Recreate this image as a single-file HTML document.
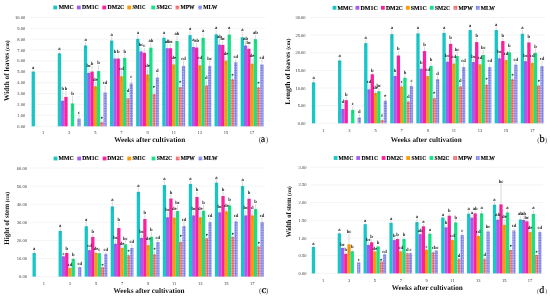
<!DOCTYPE html>
<html><head><meta charset="utf-8"><title>Figure</title>
<style>html,body{margin:0;padding:0;background:#fff}body{width:550px;height:297px;overflow:hidden}</style></head>
<body>
<svg width="550" height="297" viewBox="0 0 550 297" style="display:block;text-rendering:geometricPrecision">
<defs>
<pattern id="pr" width="1.65" height="1.65" patternUnits="userSpaceOnUse"><rect width="1.65" height="1.65" fill="#F25555"/><rect x="0.1" y="0.1" width="0.88" height="0.88" fill="#FFD9D9"/></pattern>
<pattern id="pb" width="1.65" height="1.65" patternUnits="userSpaceOnUse"><rect width="1.65" height="1.65" fill="#7378E4"/><rect x="0.1" y="0.1" width="0.88" height="0.88" fill="#DDE0FF"/></pattern>
</defs>
<rect width="550" height="297" fill="#fff"/>
<g id="chart-a">
<line x1="30.00" x2="265.17" y1="126.30" y2="126.30" stroke="#E9E9E9" stroke-width="0.5"/>
<text x="25.20" y="127.80" font-size="4.5" text-anchor="end" fill="#3a3a3a" font-family="Liberation Serif, serif">0.00</text>
<line x1="30.00" x2="265.17" y1="115.41" y2="115.41" stroke="#E9E9E9" stroke-width="0.5"/>
<text x="25.20" y="116.91" font-size="4.5" text-anchor="end" fill="#3a3a3a" font-family="Liberation Serif, serif">1.00</text>
<line x1="30.00" x2="265.17" y1="104.52" y2="104.52" stroke="#E9E9E9" stroke-width="0.5"/>
<text x="25.20" y="106.02" font-size="4.5" text-anchor="end" fill="#3a3a3a" font-family="Liberation Serif, serif">2.00</text>
<line x1="30.00" x2="265.17" y1="93.63" y2="93.63" stroke="#E9E9E9" stroke-width="0.5"/>
<text x="25.20" y="95.13" font-size="4.5" text-anchor="end" fill="#3a3a3a" font-family="Liberation Serif, serif">3.00</text>
<line x1="30.00" x2="265.17" y1="82.74" y2="82.74" stroke="#E9E9E9" stroke-width="0.5"/>
<text x="25.20" y="84.24" font-size="4.5" text-anchor="end" fill="#3a3a3a" font-family="Liberation Serif, serif">4.00</text>
<line x1="30.00" x2="265.17" y1="71.85" y2="71.85" stroke="#E9E9E9" stroke-width="0.5"/>
<text x="25.20" y="73.35" font-size="4.5" text-anchor="end" fill="#3a3a3a" font-family="Liberation Serif, serif">5.00</text>
<line x1="30.00" x2="265.17" y1="60.96" y2="60.96" stroke="#E9E9E9" stroke-width="0.5"/>
<text x="25.20" y="62.46" font-size="4.5" text-anchor="end" fill="#3a3a3a" font-family="Liberation Serif, serif">6.00</text>
<line x1="30.00" x2="265.17" y1="50.07" y2="50.07" stroke="#E9E9E9" stroke-width="0.5"/>
<text x="25.20" y="51.57" font-size="4.5" text-anchor="end" fill="#3a3a3a" font-family="Liberation Serif, serif">7.00</text>
<line x1="30.00" x2="265.17" y1="39.18" y2="39.18" stroke="#E9E9E9" stroke-width="0.5"/>
<text x="25.20" y="40.68" font-size="4.5" text-anchor="end" fill="#3a3a3a" font-family="Liberation Serif, serif">8.00</text>
<line x1="30.00" x2="265.17" y1="28.29" y2="28.29" stroke="#E9E9E9" stroke-width="0.5"/>
<text x="25.20" y="29.79" font-size="4.5" text-anchor="end" fill="#3a3a3a" font-family="Liberation Serif, serif">9.00</text>
<line x1="30.00" x2="265.17" y1="17.40" y2="17.40" stroke="#E9E9E9" stroke-width="0.5"/>
<text x="25.20" y="18.90" font-size="4.5" text-anchor="end" fill="#3a3a3a" font-family="Liberation Serif, serif">10.00</text>
<rect x="31.63" y="71.63" width="3.30" height="54.67" fill="#17C6C6"/>
<line x1="33.27" x2="33.27" y1="69.50" y2="73.76" stroke="#666" stroke-width="0.4" stroke-opacity="0.6"/>
<text x="33.27" y="68.60" font-size="4.6" font-weight="bold" text-anchor="middle" fill="#111" font-family="Liberation Serif, serif">a</text>
<text x="43.06" y="134.10" font-size="4.5" text-anchor="middle" fill="#3a3a3a" font-family="Liberation Serif, serif">1</text>
<rect x="57.76" y="53.34" width="3.30" height="72.96" fill="#17C6C6"/>
<rect x="61.03" y="100.71" width="3.30" height="25.59" fill="#A55CF4"/>
<rect x="64.30" y="96.90" width="3.30" height="29.40" fill="#FF1F9E"/>
<rect x="70.83" y="103.43" width="3.30" height="22.87" fill="#14E387"/>
<rect x="77.36" y="118.68" width="3.30" height="7.62" fill="url(#pb)"/>
<line x1="59.40" x2="59.40" y1="51.20" y2="55.47" stroke="#666" stroke-width="0.4" stroke-opacity="0.6"/>
<text x="59.40" y="50.30" font-size="4.6" font-weight="bold" text-anchor="middle" fill="#111" font-family="Liberation Serif, serif">a</text>
<line x1="62.66" x2="62.66" y1="91.00" y2="110.42" stroke="#666" stroke-width="0.4" stroke-opacity="0.6"/>
<text x="62.66" y="90.10" font-size="4.6" font-weight="bold" text-anchor="middle" fill="#111" font-family="Liberation Serif, serif">b</text>
<line x1="65.93" x2="65.93" y1="91.00" y2="102.79" stroke="#666" stroke-width="0.4" stroke-opacity="0.6"/>
<text x="65.93" y="90.10" font-size="4.6" font-weight="bold" text-anchor="middle" fill="#111" font-family="Liberation Serif, serif">b</text>
<line x1="72.46" x2="72.46" y1="96.10" y2="110.76" stroke="#666" stroke-width="0.4" stroke-opacity="0.6"/>
<text x="72.46" y="95.20" font-size="4.6" font-weight="bold" text-anchor="middle" fill="#111" font-family="Liberation Serif, serif">b</text>
<line x1="78.99" x2="78.99" y1="114.50" y2="122.85" stroke="#666" stroke-width="0.4" stroke-opacity="0.6"/>
<text x="78.99" y="113.60" font-size="4.6" font-weight="bold" text-anchor="middle" fill="#111" font-family="Liberation Serif, serif">c</text>
<text x="69.19" y="134.10" font-size="4.5" text-anchor="middle" fill="#3a3a3a" font-family="Liberation Serif, serif">3</text>
<rect x="83.89" y="45.50" width="3.30" height="80.80" fill="#17C6C6"/>
<rect x="87.16" y="72.94" width="3.30" height="53.36" fill="#A55CF4"/>
<rect x="90.43" y="71.63" width="3.30" height="54.67" fill="#FF1F9E"/>
<rect x="93.69" y="86.22" width="3.30" height="40.08" fill="#FF9A00"/>
<rect x="96.96" y="71.09" width="3.30" height="55.21" fill="#14E387"/>
<rect x="100.22" y="121.94" width="3.30" height="4.36" fill="url(#pr)"/>
<rect x="103.49" y="92.54" width="3.30" height="33.76" fill="url(#pb)"/>
<line x1="85.53" x2="85.53" y1="42.10" y2="48.89" stroke="#666" stroke-width="0.4" stroke-opacity="0.6"/>
<text x="85.53" y="41.20" font-size="4.6" font-weight="bold" text-anchor="middle" fill="#111" font-family="Liberation Serif, serif">a</text>
<line x1="88.79" x2="88.79" y1="67.40" y2="78.48" stroke="#666" stroke-width="0.4" stroke-opacity="0.6"/>
<text x="88.79" y="66.50" font-size="4.6" font-weight="bold" text-anchor="middle" fill="#111" font-family="Liberation Serif, serif">bc</text>
<line x1="92.06" x2="92.06" y1="65.90" y2="77.36" stroke="#666" stroke-width="0.4" stroke-opacity="0.6"/>
<text x="92.06" y="65.00" font-size="4.6" font-weight="bold" text-anchor="middle" fill="#111" font-family="Liberation Serif, serif">b</text>
<line x1="95.33" x2="95.33" y1="81.90" y2="90.55" stroke="#666" stroke-width="0.4" stroke-opacity="0.6"/>
<text x="95.33" y="81.00" font-size="4.6" font-weight="bold" text-anchor="middle" fill="#111" font-family="Liberation Serif, serif">de</text>
<line x1="98.59" x2="98.59" y1="65.10" y2="77.08" stroke="#666" stroke-width="0.4" stroke-opacity="0.6"/>
<text x="98.59" y="64.20" font-size="4.6" font-weight="bold" text-anchor="middle" fill="#111" font-family="Liberation Serif, serif">b</text>
<line x1="101.86" x2="101.86" y1="119.50" y2="124.39" stroke="#666" stroke-width="0.4" stroke-opacity="0.6"/>
<text x="101.86" y="118.60" font-size="4.6" font-weight="bold" text-anchor="middle" fill="#111" font-family="Liberation Serif, serif">e</text>
<line x1="105.12" x2="105.12" y1="85.30" y2="99.78" stroke="#666" stroke-width="0.4" stroke-opacity="0.6"/>
<text x="105.12" y="84.40" font-size="4.6" font-weight="bold" text-anchor="middle" fill="#111" font-family="Liberation Serif, serif">cd</text>
<text x="95.32" y="134.10" font-size="4.5" text-anchor="middle" fill="#3a3a3a" font-family="Liberation Serif, serif">5</text>
<rect x="110.02" y="40.60" width="3.30" height="85.70" fill="#17C6C6"/>
<rect x="113.29" y="58.56" width="3.30" height="67.74" fill="#A55CF4"/>
<rect x="116.56" y="58.56" width="3.30" height="67.74" fill="#FF1F9E"/>
<rect x="119.82" y="76.21" width="3.30" height="50.09" fill="#FF9A00"/>
<rect x="123.09" y="57.91" width="3.30" height="68.39" fill="#14E387"/>
<rect x="126.35" y="98.31" width="3.30" height="27.99" fill="url(#pr)"/>
<rect x="129.62" y="83.50" width="3.30" height="42.80" fill="url(#pb)"/>
<line x1="111.66" x2="111.66" y1="36.60" y2="44.59" stroke="#666" stroke-width="0.4" stroke-opacity="0.6"/>
<text x="111.66" y="35.70" font-size="4.6" font-weight="bold" text-anchor="middle" fill="#111" font-family="Liberation Serif, serif">a</text>
<line x1="114.92" x2="114.92" y1="53.90" y2="63.23" stroke="#666" stroke-width="0.4" stroke-opacity="0.6"/>
<text x="114.92" y="53.00" font-size="4.6" font-weight="bold" text-anchor="middle" fill="#111" font-family="Liberation Serif, serif">b</text>
<line x1="118.19" x2="118.19" y1="53.90" y2="63.23" stroke="#666" stroke-width="0.4" stroke-opacity="0.6"/>
<text x="118.19" y="53.00" font-size="4.6" font-weight="bold" text-anchor="middle" fill="#111" font-family="Liberation Serif, serif">b</text>
<line x1="121.46" x2="121.46" y1="70.60" y2="81.81" stroke="#666" stroke-width="0.4" stroke-opacity="0.6"/>
<text x="121.46" y="69.70" font-size="4.6" font-weight="bold" text-anchor="middle" fill="#111" font-family="Liberation Serif, serif">cd</text>
<line x1="124.72" x2="124.72" y1="53.50" y2="62.32" stroke="#666" stroke-width="0.4" stroke-opacity="0.6"/>
<text x="124.72" y="52.60" font-size="4.6" font-weight="bold" text-anchor="middle" fill="#111" font-family="Liberation Serif, serif">b</text>
<line x1="127.99" x2="127.99" y1="93.20" y2="103.43" stroke="#666" stroke-width="0.4" stroke-opacity="0.6"/>
<text x="127.99" y="92.30" font-size="4.6" font-weight="bold" text-anchor="middle" fill="#111" font-family="Liberation Serif, serif">d</text>
<line x1="131.25" x2="131.25" y1="79.20" y2="87.80" stroke="#666" stroke-width="0.4" stroke-opacity="0.6"/>
<text x="131.25" y="78.30" font-size="4.6" font-weight="bold" text-anchor="middle" fill="#111" font-family="Liberation Serif, serif">c</text>
<text x="121.45" y="134.10" font-size="4.5" text-anchor="middle" fill="#3a3a3a" font-family="Liberation Serif, serif">7</text>
<rect x="136.15" y="38.85" width="3.30" height="87.45" fill="#17C6C6"/>
<rect x="139.42" y="51.49" width="3.30" height="74.81" fill="#A55CF4"/>
<rect x="142.69" y="52.79" width="3.30" height="73.51" fill="#FF1F9E"/>
<rect x="145.95" y="74.35" width="3.30" height="51.95" fill="#FF9A00"/>
<rect x="149.22" y="47.67" width="3.30" height="78.63" fill="#14E387"/>
<rect x="152.48" y="93.96" width="3.30" height="32.34" fill="url(#pr)"/>
<rect x="155.75" y="77.62" width="3.30" height="48.68" fill="url(#pb)"/>
<line x1="137.79" x2="137.79" y1="34.80" y2="42.91" stroke="#666" stroke-width="0.4" stroke-opacity="0.6"/>
<text x="137.79" y="33.90" font-size="4.6" font-weight="bold" text-anchor="middle" fill="#111" font-family="Liberation Serif, serif">a</text>
<line x1="141.05" x2="141.05" y1="47.20" y2="55.77" stroke="#666" stroke-width="0.4" stroke-opacity="0.6"/>
<text x="141.05" y="46.30" font-size="4.6" font-weight="bold" text-anchor="middle" fill="#111" font-family="Liberation Serif, serif">bc</text>
<line x1="144.32" x2="144.32" y1="48.10" y2="57.48" stroke="#666" stroke-width="0.4" stroke-opacity="0.6"/>
<text x="144.32" y="47.20" font-size="4.6" font-weight="bold" text-anchor="middle" fill="#111" font-family="Liberation Serif, serif">c</text>
<line x1="147.59" x2="147.59" y1="67.70" y2="81.01" stroke="#666" stroke-width="0.4" stroke-opacity="0.6"/>
<text x="147.59" y="66.80" font-size="4.6" font-weight="bold" text-anchor="middle" fill="#111" font-family="Liberation Serif, serif">de</text>
<line x1="150.85" x2="150.85" y1="42.60" y2="52.75" stroke="#666" stroke-width="0.4" stroke-opacity="0.6"/>
<text x="150.85" y="41.70" font-size="4.6" font-weight="bold" text-anchor="middle" fill="#111" font-family="Liberation Serif, serif">ab</text>
<line x1="154.12" x2="154.12" y1="89.20" y2="98.71" stroke="#666" stroke-width="0.4" stroke-opacity="0.6"/>
<text x="154.12" y="88.30" font-size="4.6" font-weight="bold" text-anchor="middle" fill="#111" font-family="Liberation Serif, serif">e</text>
<line x1="157.38" x2="157.38" y1="73.20" y2="82.04" stroke="#666" stroke-width="0.4" stroke-opacity="0.6"/>
<text x="157.38" y="72.30" font-size="4.6" font-weight="bold" text-anchor="middle" fill="#111" font-family="Liberation Serif, serif">d</text>
<text x="147.58" y="134.10" font-size="4.5" text-anchor="middle" fill="#3a3a3a" font-family="Liberation Serif, serif">9</text>
<rect x="162.28" y="37.76" width="3.30" height="88.54" fill="#17C6C6"/>
<rect x="165.55" y="48.22" width="3.30" height="78.08" fill="#A55CF4"/>
<rect x="168.82" y="48.22" width="3.30" height="78.08" fill="#FF1F9E"/>
<rect x="172.08" y="64.44" width="3.30" height="61.86" fill="#FF9A00"/>
<rect x="175.35" y="41.03" width="3.30" height="85.27" fill="#14E387"/>
<rect x="178.61" y="87.10" width="3.30" height="39.20" fill="url(#pr)"/>
<rect x="181.88" y="65.86" width="3.30" height="60.44" fill="url(#pb)"/>
<line x1="163.92" x2="163.92" y1="34.80" y2="40.73" stroke="#666" stroke-width="0.4" stroke-opacity="0.6"/>
<text x="163.92" y="33.90" font-size="4.6" font-weight="bold" text-anchor="middle" fill="#111" font-family="Liberation Serif, serif">a</text>
<line x1="167.18" x2="167.18" y1="43.90" y2="52.54" stroke="#666" stroke-width="0.4" stroke-opacity="0.6"/>
<text x="167.18" y="43.00" font-size="4.6" font-weight="bold" text-anchor="middle" fill="#111" font-family="Liberation Serif, serif">ab</text>
<line x1="170.45" x2="170.45" y1="43.90" y2="52.54" stroke="#666" stroke-width="0.4" stroke-opacity="0.6"/>
<text x="170.45" y="43.00" font-size="4.6" font-weight="bold" text-anchor="middle" fill="#111" font-family="Liberation Serif, serif">bc</text>
<line x1="173.72" x2="173.72" y1="59.70" y2="69.19" stroke="#666" stroke-width="0.4" stroke-opacity="0.6"/>
<text x="173.72" y="58.80" font-size="4.6" font-weight="bold" text-anchor="middle" fill="#111" font-family="Liberation Serif, serif">de</text>
<line x1="176.98" x2="176.98" y1="36.10" y2="45.96" stroke="#666" stroke-width="0.4" stroke-opacity="0.6"/>
<text x="176.98" y="35.20" font-size="4.6" font-weight="bold" text-anchor="middle" fill="#111" font-family="Liberation Serif, serif">ab</text>
<line x1="180.25" x2="180.25" y1="83.40" y2="90.79" stroke="#666" stroke-width="0.4" stroke-opacity="0.6"/>
<text x="180.25" y="82.50" font-size="4.6" font-weight="bold" text-anchor="middle" fill="#111" font-family="Liberation Serif, serif">e</text>
<line x1="183.51" x2="183.51" y1="61.10" y2="70.62" stroke="#666" stroke-width="0.4" stroke-opacity="0.6"/>
<text x="183.51" y="60.20" font-size="4.6" font-weight="bold" text-anchor="middle" fill="#111" font-family="Liberation Serif, serif">cd</text>
<text x="173.72" y="134.10" font-size="4.5" text-anchor="middle" fill="#3a3a3a" font-family="Liberation Serif, serif">11</text>
<rect x="188.41" y="35.15" width="3.30" height="91.15" fill="#17C6C6"/>
<rect x="191.68" y="47.02" width="3.30" height="79.28" fill="#A55CF4"/>
<rect x="194.95" y="47.57" width="3.30" height="78.73" fill="#FF1F9E"/>
<rect x="198.21" y="65.32" width="3.30" height="60.98" fill="#FF9A00"/>
<rect x="201.48" y="37.87" width="3.30" height="88.43" fill="#14E387"/>
<rect x="204.74" y="85.46" width="3.30" height="40.84" fill="url(#pr)"/>
<rect x="208.01" y="65.86" width="3.30" height="60.44" fill="url(#pb)"/>
<line x1="190.05" x2="190.05" y1="31.20" y2="39.10" stroke="#666" stroke-width="0.4" stroke-opacity="0.6"/>
<text x="190.05" y="30.30" font-size="4.6" font-weight="bold" text-anchor="middle" fill="#111" font-family="Liberation Serif, serif">a</text>
<line x1="193.31" x2="193.31" y1="42.10" y2="51.94" stroke="#666" stroke-width="0.4" stroke-opacity="0.6"/>
<text x="193.31" y="41.20" font-size="4.6" font-weight="bold" text-anchor="middle" fill="#111" font-family="Liberation Serif, serif">a</text>
<line x1="196.58" x2="196.58" y1="43.00" y2="52.13" stroke="#666" stroke-width="0.4" stroke-opacity="0.6"/>
<text x="196.58" y="42.10" font-size="4.6" font-weight="bold" text-anchor="middle" fill="#111" font-family="Liberation Serif, serif">ab</text>
<line x1="199.85" x2="199.85" y1="59.90" y2="70.73" stroke="#666" stroke-width="0.4" stroke-opacity="0.6"/>
<text x="199.85" y="59.00" font-size="4.6" font-weight="bold" text-anchor="middle" fill="#111" font-family="Liberation Serif, serif">cd</text>
<line x1="203.11" x2="203.11" y1="32.60" y2="43.15" stroke="#666" stroke-width="0.4" stroke-opacity="0.6"/>
<text x="203.11" y="31.70" font-size="4.6" font-weight="bold" text-anchor="middle" fill="#111" font-family="Liberation Serif, serif">a</text>
<line x1="206.38" x2="206.38" y1="80.10" y2="90.82" stroke="#666" stroke-width="0.4" stroke-opacity="0.6"/>
<text x="206.38" y="79.20" font-size="4.6" font-weight="bold" text-anchor="middle" fill="#111" font-family="Liberation Serif, serif">d</text>
<line x1="209.64" x2="209.64" y1="60.50" y2="71.22" stroke="#666" stroke-width="0.4" stroke-opacity="0.6"/>
<text x="209.64" y="59.60" font-size="4.6" font-weight="bold" text-anchor="middle" fill="#111" font-family="Liberation Serif, serif">bc</text>
<text x="199.84" y="134.10" font-size="4.5" text-anchor="middle" fill="#3a3a3a" font-family="Liberation Serif, serif">13</text>
<rect x="214.54" y="34.28" width="3.30" height="92.02" fill="#17C6C6"/>
<rect x="217.81" y="44.62" width="3.30" height="81.68" fill="#A55CF4"/>
<rect x="221.08" y="44.95" width="3.30" height="81.35" fill="#FF1F9E"/>
<rect x="224.34" y="60.63" width="3.30" height="65.67" fill="#FF9A00"/>
<rect x="227.61" y="34.61" width="3.30" height="91.69" fill="#14E387"/>
<rect x="230.87" y="79.15" width="3.30" height="47.15" fill="url(#pr)"/>
<rect x="234.14" y="62.38" width="3.30" height="63.92" fill="url(#pb)"/>
<line x1="216.18" x2="216.18" y1="29.90" y2="38.66" stroke="#666" stroke-width="0.4" stroke-opacity="0.6"/>
<text x="216.18" y="29.00" font-size="4.6" font-weight="bold" text-anchor="middle" fill="#111" font-family="Liberation Serif, serif">a</text>
<line x1="219.44" x2="219.44" y1="38.40" y2="50.85" stroke="#666" stroke-width="0.4" stroke-opacity="0.6"/>
<text x="219.44" y="37.50" font-size="4.6" font-weight="bold" text-anchor="middle" fill="#111" font-family="Liberation Serif, serif">ab</text>
<line x1="222.71" x2="222.71" y1="41.20" y2="48.70" stroke="#666" stroke-width="0.4" stroke-opacity="0.6"/>
<text x="222.71" y="40.30" font-size="4.6" font-weight="bold" text-anchor="middle" fill="#111" font-family="Liberation Serif, serif">bc</text>
<line x1="225.98" x2="225.98" y1="56.30" y2="64.97" stroke="#666" stroke-width="0.4" stroke-opacity="0.6"/>
<text x="225.98" y="55.40" font-size="4.6" font-weight="bold" text-anchor="middle" fill="#111" font-family="Liberation Serif, serif">de</text>
<line x1="229.24" x2="229.24" y1="29.40" y2="39.81" stroke="#666" stroke-width="0.4" stroke-opacity="0.6"/>
<text x="229.24" y="28.50" font-size="4.6" font-weight="bold" text-anchor="middle" fill="#111" font-family="Liberation Serif, serif">a</text>
<line x1="232.51" x2="232.51" y1="76.40" y2="81.89" stroke="#666" stroke-width="0.4" stroke-opacity="0.6"/>
<text x="232.51" y="75.50" font-size="4.6" font-weight="bold" text-anchor="middle" fill="#111" font-family="Liberation Serif, serif">e</text>
<line x1="235.77" x2="235.77" y1="58.60" y2="66.15" stroke="#666" stroke-width="0.4" stroke-opacity="0.6"/>
<text x="235.77" y="57.70" font-size="4.6" font-weight="bold" text-anchor="middle" fill="#111" font-family="Liberation Serif, serif">cd</text>
<text x="225.97" y="134.10" font-size="4.5" text-anchor="middle" fill="#3a3a3a" font-family="Liberation Serif, serif">15</text>
<rect x="240.67" y="37.33" width="3.30" height="88.97" fill="#17C6C6"/>
<rect x="243.94" y="45.50" width="3.30" height="80.80" fill="#A55CF4"/>
<rect x="247.21" y="48.76" width="3.30" height="77.54" fill="#FF1F9E"/>
<rect x="250.47" y="63.68" width="3.30" height="62.62" fill="#FF9A00"/>
<rect x="253.74" y="39.18" width="3.30" height="87.12" fill="#14E387"/>
<rect x="257.00" y="87.31" width="3.30" height="38.99" fill="url(#pr)"/>
<rect x="260.27" y="64.55" width="3.30" height="61.75" fill="url(#pb)"/>
<line x1="242.31" x2="242.31" y1="32.10" y2="42.56" stroke="#666" stroke-width="0.4" stroke-opacity="0.6"/>
<text x="242.31" y="31.20" font-size="4.6" font-weight="bold" text-anchor="middle" fill="#111" font-family="Liberation Serif, serif">a</text>
<line x1="245.57" x2="245.57" y1="40.80" y2="50.19" stroke="#666" stroke-width="0.4" stroke-opacity="0.6"/>
<text x="245.57" y="39.90" font-size="4.6" font-weight="bold" text-anchor="middle" fill="#111" font-family="Liberation Serif, serif">ab</text>
<line x1="248.84" x2="248.84" y1="44.40" y2="53.13" stroke="#666" stroke-width="0.4" stroke-opacity="0.6"/>
<text x="248.84" y="43.50" font-size="4.6" font-weight="bold" text-anchor="middle" fill="#111" font-family="Liberation Serif, serif">bc</text>
<line x1="252.11" x2="252.11" y1="58.20" y2="69.16" stroke="#666" stroke-width="0.4" stroke-opacity="0.6"/>
<text x="252.11" y="57.30" font-size="4.6" font-weight="bold" text-anchor="middle" fill="#111" font-family="Liberation Serif, serif">de</text>
<line x1="255.37" x2="255.37" y1="34.80" y2="43.56" stroke="#666" stroke-width="0.4" stroke-opacity="0.6"/>
<text x="255.37" y="33.90" font-size="4.6" font-weight="bold" text-anchor="middle" fill="#111" font-family="Liberation Serif, serif">ab</text>
<line x1="258.64" x2="258.64" y1="85.00" y2="89.63" stroke="#666" stroke-width="0.4" stroke-opacity="0.6"/>
<text x="258.64" y="84.10" font-size="4.6" font-weight="bold" text-anchor="middle" fill="#111" font-family="Liberation Serif, serif">e</text>
<line x1="261.90" x2="261.90" y1="59.40" y2="69.71" stroke="#666" stroke-width="0.4" stroke-opacity="0.6"/>
<text x="261.90" y="58.50" font-size="4.6" font-weight="bold" text-anchor="middle" fill="#111" font-family="Liberation Serif, serif">cd</text>
<text x="252.10" y="134.10" font-size="4.5" text-anchor="middle" fill="#3a3a3a" font-family="Liberation Serif, serif">17</text>
<text x="149.65" y="142.00" font-size="7.2" font-weight="bold" text-anchor="middle" fill="#111" textLength="71" lengthAdjust="spacingAndGlyphs" font-family="Liberation Serif, serif">Weeks after cultivation</text>
<text transform="translate(9.00,70.70) rotate(-90)" font-size="7.2" font-weight="bold" text-anchor="middle" fill="#111" textLength="60.6" lengthAdjust="spacingAndGlyphs" font-family="Liberation Serif, serif">Width of leaves <tspan font-size="5.4">(cm)</tspan></text>
<text x="258.70" y="141.55" font-size="7.6" fill="#444" font-family="Liberation Serif, serif">(</text>
<text x="260.80" y="141.90" font-size="10" fill="#000" stroke="#000" stroke-width="0.18"  font-family="Liberation Serif, serif">a</text>
<text x="268.20" y="141.55" font-size="7.6" fill="#444" text-anchor="end" font-family="Liberation Serif, serif">)</text>
<rect x="53.30" y="5.60" width="3.8" height="3.8" fill="#17C6C6"/>
<text x="58.70" y="9.25" font-size="6.0" font-weight="bold" fill="#000" stroke="#000" stroke-width="0.12" textLength="14.90" lengthAdjust="spacingAndGlyphs" font-family="Liberation Serif, serif">MMC</text>
<rect x="76.90" y="5.60" width="3.8" height="3.8" fill="#A55CF4"/>
<text x="82.00" y="9.25" font-size="6.0" font-weight="bold" fill="#000" stroke="#000" stroke-width="0.12" textLength="16.70" lengthAdjust="spacingAndGlyphs" font-family="Liberation Serif, serif">DM1C</text>
<rect x="102.40" y="5.60" width="3.8" height="3.8" fill="#FF1F9E"/>
<text x="107.50" y="9.25" font-size="6.0" font-weight="bold" fill="#000" stroke="#000" stroke-width="0.12" textLength="16.70" lengthAdjust="spacingAndGlyphs" font-family="Liberation Serif, serif">DM2C</text>
<rect x="127.30" y="5.60" width="3.8" height="3.8" fill="#FF9A00"/>
<text x="132.40" y="9.25" font-size="6.0" font-weight="bold" fill="#000" stroke="#000" stroke-width="0.12" textLength="13.10" lengthAdjust="spacingAndGlyphs" font-family="Liberation Serif, serif">SM1C</text>
<rect x="151.30" y="5.60" width="3.8" height="3.8" fill="#14E387"/>
<text x="156.40" y="9.25" font-size="6.0" font-weight="bold" fill="#000" stroke="#000" stroke-width="0.12" textLength="15.40" lengthAdjust="spacingAndGlyphs" font-family="Liberation Serif, serif">SM2C</text>
<rect x="175.50" y="5.60" width="3.8" height="3.8" fill="url(#pr)"/>
<text x="180.50" y="9.25" font-size="6.0" font-weight="bold" fill="#000" stroke="#000" stroke-width="0.12" textLength="14.00" lengthAdjust="spacingAndGlyphs" font-family="Liberation Serif, serif">MPW</text>
<rect x="198.20" y="5.60" width="3.8" height="3.8" fill="url(#pb)"/>
<text x="203.30" y="9.25" font-size="6.0" font-weight="bold" fill="#000" stroke="#000" stroke-width="0.12" textLength="14.00" lengthAdjust="spacingAndGlyphs" font-family="Liberation Serif, serif">MLW</text>
</g>
<g id="chart-b">
<line x1="310.30" x2="545.20" y1="123.30" y2="123.30" stroke="#E9E9E9" stroke-width="0.5"/>
<text x="305.60" y="124.80" font-size="4.5" text-anchor="end" fill="#3a3a3a" font-family="Liberation Serif, serif">0.00</text>
<line x1="310.30" x2="545.20" y1="105.65" y2="105.65" stroke="#E9E9E9" stroke-width="0.5"/>
<text x="305.60" y="107.15" font-size="4.5" text-anchor="end" fill="#3a3a3a" font-family="Liberation Serif, serif">5.00</text>
<line x1="310.30" x2="545.20" y1="88.00" y2="88.00" stroke="#E9E9E9" stroke-width="0.5"/>
<text x="305.60" y="89.50" font-size="4.5" text-anchor="end" fill="#3a3a3a" font-family="Liberation Serif, serif">10.00</text>
<line x1="310.30" x2="545.20" y1="70.35" y2="70.35" stroke="#E9E9E9" stroke-width="0.5"/>
<text x="305.60" y="71.85" font-size="4.5" text-anchor="end" fill="#3a3a3a" font-family="Liberation Serif, serif">15.00</text>
<line x1="310.30" x2="545.20" y1="52.70" y2="52.70" stroke="#E9E9E9" stroke-width="0.5"/>
<text x="305.60" y="54.20" font-size="4.5" text-anchor="end" fill="#3a3a3a" font-family="Liberation Serif, serif">20.00</text>
<line x1="310.30" x2="545.20" y1="35.05" y2="35.05" stroke="#E9E9E9" stroke-width="0.5"/>
<text x="305.60" y="36.55" font-size="4.5" text-anchor="end" fill="#3a3a3a" font-family="Liberation Serif, serif">25.00</text>
<line x1="310.30" x2="545.20" y1="17.40" y2="17.40" stroke="#E9E9E9" stroke-width="0.5"/>
<text x="305.60" y="18.90" font-size="4.5" text-anchor="end" fill="#3a3a3a" font-family="Liberation Serif, serif">30.00</text>
<rect x="311.93" y="82.35" width="3.30" height="40.95" fill="#17C6C6"/>
<line x1="313.56" x2="313.56" y1="79.50" y2="85.20" stroke="#666" stroke-width="0.4" stroke-opacity="0.6"/>
<text x="313.56" y="78.60" font-size="4.6" font-weight="bold" text-anchor="middle" fill="#111" font-family="Liberation Serif, serif">a</text>
<text x="323.35" y="131.80" font-size="4.5" text-anchor="middle" fill="#3a3a3a" font-family="Liberation Serif, serif">1</text>
<rect x="338.03" y="60.47" width="3.30" height="62.83" fill="#17C6C6"/>
<rect x="341.29" y="108.93" width="3.30" height="14.37" fill="#A55CF4"/>
<rect x="344.56" y="100.18" width="3.30" height="23.12" fill="#FF1F9E"/>
<rect x="351.08" y="109.89" width="3.30" height="13.41" fill="#14E387"/>
<rect x="357.61" y="117.48" width="3.30" height="5.82" fill="url(#pb)"/>
<line x1="339.66" x2="339.66" y1="57.50" y2="63.43" stroke="#666" stroke-width="0.4" stroke-opacity="0.6"/>
<text x="339.66" y="56.60" font-size="4.6" font-weight="bold" text-anchor="middle" fill="#111" font-family="Liberation Serif, serif">a</text>
<line x1="342.93" x2="342.93" y1="103.90" y2="113.97" stroke="#666" stroke-width="0.4" stroke-opacity="0.6"/>
<text x="342.93" y="103.00" font-size="4.6" font-weight="bold" text-anchor="middle" fill="#111" font-family="Liberation Serif, serif">d</text>
<line x1="346.19" x2="346.19" y1="96.50" y2="103.86" stroke="#666" stroke-width="0.4" stroke-opacity="0.6"/>
<text x="346.19" y="95.60" font-size="4.6" font-weight="bold" text-anchor="middle" fill="#111" font-family="Liberation Serif, serif">b</text>
<line x1="352.71" x2="352.71" y1="106.30" y2="113.47" stroke="#666" stroke-width="0.4" stroke-opacity="0.6"/>
<text x="352.71" y="105.40" font-size="4.6" font-weight="bold" text-anchor="middle" fill="#111" font-family="Liberation Serif, serif">c</text>
<line x1="359.24" x2="359.24" y1="113.50" y2="121.45" stroke="#666" stroke-width="0.4" stroke-opacity="0.6"/>
<text x="359.24" y="112.60" font-size="4.6" font-weight="bold" text-anchor="middle" fill="#111" font-family="Liberation Serif, serif">d</text>
<text x="349.45" y="131.80" font-size="4.5" text-anchor="middle" fill="#3a3a3a" font-family="Liberation Serif, serif">3</text>
<rect x="364.13" y="43.17" width="3.30" height="80.13" fill="#17C6C6"/>
<rect x="367.39" y="89.41" width="3.30" height="33.89" fill="#A55CF4"/>
<rect x="370.66" y="74.23" width="3.30" height="49.07" fill="#FF1F9E"/>
<rect x="373.92" y="92.94" width="3.30" height="30.36" fill="#FF9A00"/>
<rect x="377.18" y="91.18" width="3.30" height="32.12" fill="#14E387"/>
<rect x="380.44" y="120.12" width="3.30" height="3.18" fill="url(#pr)"/>
<rect x="383.71" y="100.71" width="3.30" height="22.59" fill="url(#pb)"/>
<line x1="365.76" x2="365.76" y1="39.90" y2="46.44" stroke="#666" stroke-width="0.4" stroke-opacity="0.6"/>
<text x="365.76" y="39.00" font-size="4.6" font-weight="bold" text-anchor="middle" fill="#111" font-family="Liberation Serif, serif">a</text>
<line x1="369.03" x2="369.03" y1="83.70" y2="95.12" stroke="#666" stroke-width="0.4" stroke-opacity="0.6"/>
<text x="369.03" y="82.80" font-size="4.6" font-weight="bold" text-anchor="middle" fill="#111" font-family="Liberation Serif, serif">cd</text>
<line x1="372.29" x2="372.29" y1="72.60" y2="75.87" stroke="#666" stroke-width="0.4" stroke-opacity="0.6"/>
<text x="372.29" y="71.70" font-size="4.6" font-weight="bold" text-anchor="middle" fill="#111" font-family="Liberation Serif, serif">b</text>
<line x1="375.55" x2="375.55" y1="90.30" y2="95.58" stroke="#666" stroke-width="0.4" stroke-opacity="0.6"/>
<text x="375.55" y="89.40" font-size="4.6" font-weight="bold" text-anchor="middle" fill="#111" font-family="Liberation Serif, serif">de</text>
<line x1="378.81" x2="378.81" y1="88.10" y2="94.25" stroke="#666" stroke-width="0.4" stroke-opacity="0.6"/>
<text x="378.81" y="87.20" font-size="4.6" font-weight="bold" text-anchor="middle" fill="#111" font-family="Liberation Serif, serif">bc</text>
<line x1="382.08" x2="382.08" y1="117.90" y2="122.35" stroke="#666" stroke-width="0.4" stroke-opacity="0.6"/>
<text x="382.08" y="117.00" font-size="4.6" font-weight="bold" text-anchor="middle" fill="#111" font-family="Liberation Serif, serif">f</text>
<line x1="385.34" x2="385.34" y1="97.50" y2="103.92" stroke="#666" stroke-width="0.4" stroke-opacity="0.6"/>
<text x="385.34" y="96.60" font-size="4.6" font-weight="bold" text-anchor="middle" fill="#111" font-family="Liberation Serif, serif">e</text>
<text x="375.55" y="131.80" font-size="4.5" text-anchor="middle" fill="#3a3a3a" font-family="Liberation Serif, serif">5</text>
<rect x="390.23" y="34.13" width="3.30" height="89.17" fill="#17C6C6"/>
<rect x="393.49" y="76.00" width="3.30" height="47.30" fill="#A55CF4"/>
<rect x="396.76" y="55.52" width="3.30" height="67.78" fill="#FF1F9E"/>
<rect x="400.02" y="86.59" width="3.30" height="36.71" fill="#FF9A00"/>
<rect x="403.28" y="77.76" width="3.30" height="45.54" fill="#14E387"/>
<rect x="406.54" y="101.41" width="3.30" height="21.89" fill="url(#pr)"/>
<rect x="409.81" y="86.06" width="3.30" height="37.24" fill="url(#pb)"/>
<line x1="391.86" x2="391.86" y1="29.90" y2="38.36" stroke="#666" stroke-width="0.4" stroke-opacity="0.6"/>
<text x="391.86" y="29.00" font-size="4.6" font-weight="bold" text-anchor="middle" fill="#111" font-family="Liberation Serif, serif">a</text>
<line x1="395.13" x2="395.13" y1="72.90" y2="79.10" stroke="#666" stroke-width="0.4" stroke-opacity="0.6"/>
<text x="395.13" y="72.00" font-size="4.6" font-weight="bold" text-anchor="middle" fill="#111" font-family="Liberation Serif, serif">b</text>
<line x1="398.39" x2="398.39" y1="51.20" y2="59.85" stroke="#666" stroke-width="0.4" stroke-opacity="0.6"/>
<text x="398.39" y="50.30" font-size="4.6" font-weight="bold" text-anchor="middle" fill="#111" font-family="Liberation Serif, serif">b</text>
<line x1="401.65" x2="401.65" y1="83.40" y2="89.78" stroke="#666" stroke-width="0.4" stroke-opacity="0.6"/>
<text x="401.65" y="82.50" font-size="4.6" font-weight="bold" text-anchor="middle" fill="#111" font-family="Liberation Serif, serif">c</text>
<line x1="404.91" x2="404.91" y1="74.80" y2="80.73" stroke="#666" stroke-width="0.4" stroke-opacity="0.6"/>
<text x="404.91" y="73.90" font-size="4.6" font-weight="bold" text-anchor="middle" fill="#111" font-family="Liberation Serif, serif">b</text>
<line x1="408.18" x2="408.18" y1="98.40" y2="104.43" stroke="#666" stroke-width="0.4" stroke-opacity="0.6"/>
<text x="408.18" y="97.50" font-size="4.6" font-weight="bold" text-anchor="middle" fill="#111" font-family="Liberation Serif, serif">d</text>
<line x1="411.44" x2="411.44" y1="82.70" y2="89.42" stroke="#666" stroke-width="0.4" stroke-opacity="0.6"/>
<text x="411.44" y="81.80" font-size="4.6" font-weight="bold" text-anchor="middle" fill="#111" font-family="Liberation Serif, serif">c</text>
<text x="401.65" y="131.80" font-size="4.5" text-anchor="middle" fill="#3a3a3a" font-family="Liberation Serif, serif">7</text>
<rect x="416.33" y="33.43" width="3.30" height="89.87" fill="#17C6C6"/>
<rect x="419.59" y="68.73" width="3.30" height="54.57" fill="#A55CF4"/>
<rect x="422.86" y="51.08" width="3.30" height="72.22" fill="#FF1F9E"/>
<rect x="426.12" y="76.00" width="3.30" height="47.30" fill="#FF9A00"/>
<rect x="429.38" y="65.94" width="3.30" height="57.36" fill="#14E387"/>
<rect x="432.64" y="98.24" width="3.30" height="25.06" fill="url(#pr)"/>
<rect x="435.91" y="79.17" width="3.30" height="44.12" fill="url(#pb)"/>
<line x1="417.96" x2="417.96" y1="29.90" y2="36.95" stroke="#666" stroke-width="0.4" stroke-opacity="0.6"/>
<text x="417.96" y="29.00" font-size="4.6" font-weight="bold" text-anchor="middle" fill="#111" font-family="Liberation Serif, serif">a</text>
<line x1="421.23" x2="421.23" y1="65.10" y2="72.35" stroke="#666" stroke-width="0.4" stroke-opacity="0.6"/>
<text x="421.23" y="64.20" font-size="4.6" font-weight="bold" text-anchor="middle" fill="#111" font-family="Liberation Serif, serif">b</text>
<line x1="424.49" x2="424.49" y1="47.20" y2="54.95" stroke="#666" stroke-width="0.4" stroke-opacity="0.6"/>
<text x="424.49" y="46.30" font-size="4.6" font-weight="bold" text-anchor="middle" fill="#111" font-family="Liberation Serif, serif">b</text>
<line x1="427.75" x2="427.75" y1="71.90" y2="80.10" stroke="#666" stroke-width="0.4" stroke-opacity="0.6"/>
<text x="427.75" y="71.00" font-size="4.6" font-weight="bold" text-anchor="middle" fill="#111" font-family="Liberation Serif, serif">cd</text>
<line x1="431.01" x2="431.01" y1="62.00" y2="69.88" stroke="#666" stroke-width="0.4" stroke-opacity="0.6"/>
<text x="431.01" y="61.10" font-size="4.6" font-weight="bold" text-anchor="middle" fill="#111" font-family="Liberation Serif, serif">b</text>
<line x1="434.28" x2="434.28" y1="95.20" y2="101.27" stroke="#666" stroke-width="0.4" stroke-opacity="0.6"/>
<text x="434.28" y="94.30" font-size="4.6" font-weight="bold" text-anchor="middle" fill="#111" font-family="Liberation Serif, serif">e</text>
<line x1="437.54" x2="437.54" y1="75.50" y2="82.85" stroke="#666" stroke-width="0.4" stroke-opacity="0.6"/>
<text x="437.54" y="74.60" font-size="4.6" font-weight="bold" text-anchor="middle" fill="#111" font-family="Liberation Serif, serif">d</text>
<text x="427.75" y="131.80" font-size="4.5" text-anchor="middle" fill="#3a3a3a" font-family="Liberation Serif, serif">9</text>
<rect x="442.43" y="32.93" width="3.30" height="90.37" fill="#17C6C6"/>
<rect x="445.69" y="61.70" width="3.30" height="61.60" fill="#A55CF4"/>
<rect x="448.96" y="43.87" width="3.30" height="79.43" fill="#FF1F9E"/>
<rect x="452.22" y="63.64" width="3.30" height="59.66" fill="#FF9A00"/>
<rect x="455.48" y="56.05" width="3.30" height="67.25" fill="#14E387"/>
<rect x="458.74" y="86.38" width="3.30" height="36.92" fill="url(#pr)"/>
<rect x="462.01" y="67.17" width="3.30" height="56.13" fill="url(#pb)"/>
<line x1="444.06" x2="444.06" y1="29.90" y2="35.96" stroke="#666" stroke-width="0.4" stroke-opacity="0.6"/>
<text x="444.06" y="29.00" font-size="4.6" font-weight="bold" text-anchor="middle" fill="#111" font-family="Liberation Serif, serif">a</text>
<line x1="447.33" x2="447.33" y1="57.50" y2="65.90" stroke="#666" stroke-width="0.4" stroke-opacity="0.6"/>
<text x="447.33" y="56.60" font-size="4.6" font-weight="bold" text-anchor="middle" fill="#111" font-family="Liberation Serif, serif">bc</text>
<line x1="450.59" x2="450.59" y1="39.60" y2="48.15" stroke="#666" stroke-width="0.4" stroke-opacity="0.6"/>
<text x="450.59" y="38.70" font-size="4.6" font-weight="bold" text-anchor="middle" fill="#111" font-family="Liberation Serif, serif">b</text>
<line x1="453.85" x2="453.85" y1="58.90" y2="68.39" stroke="#666" stroke-width="0.4" stroke-opacity="0.6"/>
<text x="453.85" y="58.00" font-size="4.6" font-weight="bold" text-anchor="middle" fill="#111" font-family="Liberation Serif, serif">cd</text>
<line x1="457.11" x2="457.11" y1="51.40" y2="60.71" stroke="#666" stroke-width="0.4" stroke-opacity="0.6"/>
<text x="457.11" y="50.50" font-size="4.6" font-weight="bold" text-anchor="middle" fill="#111" font-family="Liberation Serif, serif">bc</text>
<line x1="460.38" x2="460.38" y1="83.20" y2="89.55" stroke="#666" stroke-width="0.4" stroke-opacity="0.6"/>
<text x="460.38" y="82.30" font-size="4.6" font-weight="bold" text-anchor="middle" fill="#111" font-family="Liberation Serif, serif">d</text>
<line x1="463.64" x2="463.64" y1="62.80" y2="71.55" stroke="#666" stroke-width="0.4" stroke-opacity="0.6"/>
<text x="463.64" y="61.90" font-size="4.6" font-weight="bold" text-anchor="middle" fill="#111" font-family="Liberation Serif, serif">cd</text>
<text x="453.85" y="131.80" font-size="4.5" text-anchor="middle" fill="#3a3a3a" font-family="Liberation Serif, serif">11</text>
<rect x="468.53" y="30.11" width="3.30" height="93.19" fill="#17C6C6"/>
<rect x="471.79" y="62.05" width="3.30" height="61.25" fill="#A55CF4"/>
<rect x="475.06" y="42.11" width="3.30" height="81.19" fill="#FF1F9E"/>
<rect x="478.32" y="64.35" width="3.30" height="58.95" fill="#FF9A00"/>
<rect x="481.58" y="54.99" width="3.30" height="68.31" fill="#14E387"/>
<rect x="484.84" y="84.65" width="3.30" height="38.65" fill="url(#pr)"/>
<rect x="488.11" y="67.17" width="3.30" height="56.13" fill="url(#pb)"/>
<line x1="470.16" x2="470.16" y1="27.50" y2="32.72" stroke="#666" stroke-width="0.4" stroke-opacity="0.6"/>
<text x="470.16" y="26.60" font-size="4.6" font-weight="bold" text-anchor="middle" fill="#111" font-family="Liberation Serif, serif">a</text>
<line x1="473.43" x2="473.43" y1="58.90" y2="65.21" stroke="#666" stroke-width="0.4" stroke-opacity="0.6"/>
<text x="473.43" y="58.00" font-size="4.6" font-weight="bold" text-anchor="middle" fill="#111" font-family="Liberation Serif, serif">bc</text>
<line x1="476.69" x2="476.69" y1="38.10" y2="46.12" stroke="#666" stroke-width="0.4" stroke-opacity="0.6"/>
<text x="476.69" y="37.20" font-size="4.6" font-weight="bold" text-anchor="middle" fill="#111" font-family="Liberation Serif, serif">b</text>
<line x1="479.95" x2="479.95" y1="59.40" y2="69.30" stroke="#666" stroke-width="0.4" stroke-opacity="0.6"/>
<text x="479.95" y="58.50" font-size="4.6" font-weight="bold" text-anchor="middle" fill="#111" font-family="Liberation Serif, serif">cd</text>
<line x1="483.21" x2="483.21" y1="50.30" y2="59.69" stroke="#666" stroke-width="0.4" stroke-opacity="0.6"/>
<text x="483.21" y="49.40" font-size="4.6" font-weight="bold" text-anchor="middle" fill="#111" font-family="Liberation Serif, serif">bc</text>
<line x1="486.48" x2="486.48" y1="80.90" y2="88.39" stroke="#666" stroke-width="0.4" stroke-opacity="0.6"/>
<text x="486.48" y="80.00" font-size="4.6" font-weight="bold" text-anchor="middle" fill="#111" font-family="Liberation Serif, serif">e</text>
<line x1="489.74" x2="489.74" y1="63.30" y2="71.05" stroke="#666" stroke-width="0.4" stroke-opacity="0.6"/>
<text x="489.74" y="62.40" font-size="4.6" font-weight="bold" text-anchor="middle" fill="#111" font-family="Liberation Serif, serif">cd</text>
<text x="479.95" y="131.80" font-size="4.5" text-anchor="middle" fill="#3a3a3a" font-family="Liberation Serif, serif">13</text>
<rect x="494.63" y="30.11" width="3.30" height="93.19" fill="#17C6C6"/>
<rect x="497.89" y="58.35" width="3.30" height="64.95" fill="#A55CF4"/>
<rect x="501.16" y="41.05" width="3.30" height="82.25" fill="#FF1F9E"/>
<rect x="504.42" y="60.11" width="3.30" height="63.19" fill="#FF9A00"/>
<rect x="507.68" y="52.35" width="3.30" height="70.95" fill="#14E387"/>
<rect x="510.94" y="79.17" width="3.30" height="44.12" fill="url(#pr)"/>
<rect x="514.21" y="64.70" width="3.30" height="58.60" fill="url(#pb)"/>
<line x1="496.26" x2="496.26" y1="26.60" y2="33.62" stroke="#666" stroke-width="0.4" stroke-opacity="0.6"/>
<text x="496.26" y="25.70" font-size="4.6" font-weight="bold" text-anchor="middle" fill="#111" font-family="Liberation Serif, serif">a</text>
<line x1="499.53" x2="499.53" y1="54.30" y2="62.40" stroke="#666" stroke-width="0.4" stroke-opacity="0.6"/>
<text x="499.53" y="53.40" font-size="4.6" font-weight="bold" text-anchor="middle" fill="#111" font-family="Liberation Serif, serif">bc</text>
<line x1="502.79" x2="502.79" y1="37.50" y2="44.60" stroke="#666" stroke-width="0.4" stroke-opacity="0.6"/>
<text x="502.79" y="36.60" font-size="4.6" font-weight="bold" text-anchor="middle" fill="#111" font-family="Liberation Serif, serif">b</text>
<line x1="506.05" x2="506.05" y1="56.10" y2="64.13" stroke="#666" stroke-width="0.4" stroke-opacity="0.6"/>
<text x="506.05" y="55.20" font-size="4.6" font-weight="bold" text-anchor="middle" fill="#111" font-family="Liberation Serif, serif">cd</text>
<line x1="509.31" x2="509.31" y1="47.50" y2="57.19" stroke="#666" stroke-width="0.4" stroke-opacity="0.6"/>
<text x="509.31" y="46.60" font-size="4.6" font-weight="bold" text-anchor="middle" fill="#111" font-family="Liberation Serif, serif">b</text>
<line x1="512.58" x2="512.58" y1="76.40" y2="81.95" stroke="#666" stroke-width="0.4" stroke-opacity="0.6"/>
<text x="512.58" y="75.50" font-size="4.6" font-weight="bold" text-anchor="middle" fill="#111" font-family="Liberation Serif, serif">e</text>
<line x1="515.84" x2="515.84" y1="61.70" y2="67.70" stroke="#666" stroke-width="0.4" stroke-opacity="0.6"/>
<text x="515.84" y="60.80" font-size="4.6" font-weight="bold" text-anchor="middle" fill="#111" font-family="Liberation Serif, serif">cd</text>
<text x="506.05" y="131.80" font-size="4.5" text-anchor="middle" fill="#3a3a3a" font-family="Liberation Serif, serif">15</text>
<rect x="520.73" y="33.78" width="3.30" height="89.52" fill="#17C6C6"/>
<rect x="523.99" y="61.17" width="3.30" height="62.13" fill="#A55CF4"/>
<rect x="527.26" y="42.46" width="3.30" height="80.84" fill="#FF1F9E"/>
<rect x="530.52" y="62.94" width="3.30" height="60.36" fill="#FF9A00"/>
<rect x="533.78" y="52.88" width="3.30" height="70.42" fill="#14E387"/>
<rect x="537.04" y="85.53" width="3.30" height="37.77" fill="url(#pr)"/>
<rect x="540.31" y="66.11" width="3.30" height="57.19" fill="url(#pb)"/>
<line x1="522.36" x2="522.36" y1="29.90" y2="37.66" stroke="#666" stroke-width="0.4" stroke-opacity="0.6"/>
<text x="522.36" y="29.00" font-size="4.6" font-weight="bold" text-anchor="middle" fill="#111" font-family="Liberation Serif, serif">a</text>
<line x1="525.63" x2="525.63" y1="57.50" y2="64.84" stroke="#666" stroke-width="0.4" stroke-opacity="0.6"/>
<text x="525.63" y="56.60" font-size="4.6" font-weight="bold" text-anchor="middle" fill="#111" font-family="Liberation Serif, serif">bc</text>
<line x1="528.89" x2="528.89" y1="38.40" y2="46.53" stroke="#666" stroke-width="0.4" stroke-opacity="0.6"/>
<text x="528.89" y="37.50" font-size="4.6" font-weight="bold" text-anchor="middle" fill="#111" font-family="Liberation Serif, serif">b</text>
<line x1="532.15" x2="532.15" y1="58.10" y2="67.77" stroke="#666" stroke-width="0.4" stroke-opacity="0.6"/>
<text x="532.15" y="57.20" font-size="4.6" font-weight="bold" text-anchor="middle" fill="#111" font-family="Liberation Serif, serif">cd</text>
<line x1="535.41" x2="535.41" y1="48.40" y2="57.35" stroke="#666" stroke-width="0.4" stroke-opacity="0.6"/>
<text x="535.41" y="47.50" font-size="4.6" font-weight="bold" text-anchor="middle" fill="#111" font-family="Liberation Serif, serif">b</text>
<line x1="538.68" x2="538.68" y1="82.40" y2="88.66" stroke="#666" stroke-width="0.4" stroke-opacity="0.6"/>
<text x="538.68" y="81.50" font-size="4.6" font-weight="bold" text-anchor="middle" fill="#111" font-family="Liberation Serif, serif">e</text>
<line x1="541.94" x2="541.94" y1="61.20" y2="71.03" stroke="#666" stroke-width="0.4" stroke-opacity="0.6"/>
<text x="541.94" y="60.30" font-size="4.6" font-weight="bold" text-anchor="middle" fill="#111" font-family="Liberation Serif, serif">cd</text>
<text x="532.15" y="131.80" font-size="4.5" text-anchor="middle" fill="#3a3a3a" font-family="Liberation Serif, serif">17</text>
<text x="426.20" y="142.20" font-size="7.2" font-weight="bold" text-anchor="middle" fill="#111" textLength="71" lengthAdjust="spacingAndGlyphs" font-family="Liberation Serif, serif">Weeks after cultivation</text>
<text transform="translate(289.60,71.70) rotate(-90)" font-size="7.2" font-weight="bold" text-anchor="middle" fill="#111" textLength="66" lengthAdjust="spacingAndGlyphs" font-family="Liberation Serif, serif">Length of leaves <tspan font-size="5.4">(cm)</tspan></text>
<text x="537.30" y="142.15" font-size="6.6" fill="#444" font-family="Liberation Serif, serif">(</text>
<text x="539.50" y="141.90" font-size="10.4" fill="#000" stroke="#000" stroke-width="0.18"  font-family="Liberation Serif, serif">b</text>
<text x="547.30" y="142.15" font-size="6.6" fill="#444" text-anchor="end" font-family="Liberation Serif, serif">)</text>
<rect x="332.60" y="5.90" width="3.8" height="3.8" fill="#17C6C6"/>
<text x="337.40" y="9.55" font-size="6.0" font-weight="bold" fill="#000" stroke="#000" stroke-width="0.12" textLength="15.20" lengthAdjust="spacingAndGlyphs" font-family="Liberation Serif, serif">MMC</text>
<rect x="355.50" y="5.90" width="3.8" height="3.8" fill="#A55CF4"/>
<text x="360.50" y="9.55" font-size="6.0" font-weight="bold" fill="#000" stroke="#000" stroke-width="0.12" textLength="17.20" lengthAdjust="spacingAndGlyphs" font-family="Liberation Serif, serif">DM1C</text>
<rect x="381.00" y="5.90" width="3.8" height="3.8" fill="#FF1F9E"/>
<text x="385.90" y="9.55" font-size="6.0" font-weight="bold" fill="#000" stroke="#000" stroke-width="0.12" textLength="16.90" lengthAdjust="spacingAndGlyphs" font-family="Liberation Serif, serif">DM2C</text>
<rect x="405.90" y="5.90" width="3.8" height="3.8" fill="#FF9A00"/>
<text x="410.80" y="9.55" font-size="6.0" font-weight="bold" fill="#000" stroke="#000" stroke-width="0.12" textLength="16.00" lengthAdjust="spacingAndGlyphs" font-family="Liberation Serif, serif">SM1C</text>
<rect x="429.90" y="5.90" width="3.8" height="3.8" fill="#14E387"/>
<text x="435.00" y="9.55" font-size="6.0" font-weight="bold" fill="#000" stroke="#000" stroke-width="0.12" textLength="14.90" lengthAdjust="spacingAndGlyphs" font-family="Liberation Serif, serif">SM2C</text>
<rect x="453.50" y="5.90" width="3.8" height="3.8" fill="url(#pr)"/>
<text x="458.60" y="9.55" font-size="6.0" font-weight="bold" fill="#000" stroke="#000" stroke-width="0.12" textLength="14.20" lengthAdjust="spacingAndGlyphs" font-family="Liberation Serif, serif">MPW</text>
<rect x="475.90" y="5.90" width="3.8" height="3.8" fill="url(#pb)"/>
<text x="480.80" y="9.55" font-size="6.0" font-weight="bold" fill="#000" stroke="#000" stroke-width="0.12" textLength="14.20" lengthAdjust="spacingAndGlyphs" font-family="Liberation Serif, serif">MLW</text>
</g>
<g id="chart-c">
<line x1="30.90" x2="265.35" y1="276.60" y2="276.60" stroke="#E9E9E9" stroke-width="0.5"/>
<text x="26.90" y="278.10" font-size="4.5" text-anchor="end" fill="#3a3a3a" font-family="Liberation Serif, serif">0.00</text>
<line x1="30.90" x2="265.35" y1="258.50" y2="258.50" stroke="#E9E9E9" stroke-width="0.5"/>
<text x="26.90" y="260.00" font-size="4.5" text-anchor="end" fill="#3a3a3a" font-family="Liberation Serif, serif">10.00</text>
<line x1="30.90" x2="265.35" y1="240.40" y2="240.40" stroke="#E9E9E9" stroke-width="0.5"/>
<text x="26.90" y="241.90" font-size="4.5" text-anchor="end" fill="#3a3a3a" font-family="Liberation Serif, serif">20.00</text>
<line x1="30.90" x2="265.35" y1="222.30" y2="222.30" stroke="#E9E9E9" stroke-width="0.5"/>
<text x="26.90" y="223.80" font-size="4.5" text-anchor="end" fill="#3a3a3a" font-family="Liberation Serif, serif">30.00</text>
<line x1="30.90" x2="265.35" y1="204.20" y2="204.20" stroke="#E9E9E9" stroke-width="0.5"/>
<text x="26.90" y="205.70" font-size="4.5" text-anchor="end" fill="#3a3a3a" font-family="Liberation Serif, serif">40.00</text>
<line x1="30.90" x2="265.35" y1="186.10" y2="186.10" stroke="#E9E9E9" stroke-width="0.5"/>
<text x="26.90" y="187.60" font-size="4.5" text-anchor="end" fill="#3a3a3a" font-family="Liberation Serif, serif">50.00</text>
<line x1="30.90" x2="265.35" y1="168.00" y2="168.00" stroke="#E9E9E9" stroke-width="0.5"/>
<text x="26.90" y="169.50" font-size="4.5" text-anchor="end" fill="#3a3a3a" font-family="Liberation Serif, serif">60.00</text>
<rect x="32.53" y="253.07" width="3.29" height="23.53" fill="#17C6C6"/>
<line x1="34.16" x2="34.16" y1="251.30" y2="254.84" stroke="#666" stroke-width="0.4" stroke-opacity="0.6"/>
<text x="34.16" y="250.40" font-size="4.6" font-weight="bold" text-anchor="middle" fill="#111" font-family="Liberation Serif, serif">a</text>
<text x="43.92" y="284.60" font-size="4.5" text-anchor="middle" fill="#3a3a3a" font-family="Liberation Serif, serif">1</text>
<rect x="58.58" y="230.99" width="3.29" height="45.61" fill="#17C6C6"/>
<rect x="61.83" y="256.33" width="3.29" height="20.27" fill="#A55CF4"/>
<rect x="65.09" y="252.98" width="3.29" height="23.62" fill="#FF1F9E"/>
<rect x="68.35" y="268.09" width="3.29" height="8.51" fill="#FF9A00"/>
<rect x="71.60" y="258.95" width="3.29" height="17.65" fill="#14E387"/>
<rect x="78.12" y="267.19" width="3.29" height="9.41" fill="url(#pb)"/>
<line x1="60.21" x2="60.21" y1="227.40" y2="234.58" stroke="#666" stroke-width="0.4" stroke-opacity="0.6"/>
<text x="60.21" y="226.50" font-size="4.6" font-weight="bold" text-anchor="middle" fill="#111" font-family="Liberation Serif, serif">a</text>
<line x1="63.46" x2="63.46" y1="255.53" y2="257.13" stroke="#666" stroke-width="0.4" stroke-opacity="0.6"/>
<text x="63.46" y="254.70" font-size="4.6" font-weight="bold" text-anchor="middle" fill="#111" font-family="Liberation Serif, serif">c</text>
<line x1="66.72" x2="66.72" y1="250.40" y2="255.56" stroke="#666" stroke-width="0.4" stroke-opacity="0.6"/>
<text x="66.72" y="249.50" font-size="4.6" font-weight="bold" text-anchor="middle" fill="#111" font-family="Liberation Serif, serif">b</text>
<line x1="69.97" x2="69.97" y1="266.90" y2="269.29" stroke="#666" stroke-width="0.4" stroke-opacity="0.6"/>
<text x="69.97" y="266.00" font-size="4.6" font-weight="bold" text-anchor="middle" fill="#111" font-family="Liberation Serif, serif">cd</text>
<line x1="73.23" x2="73.23" y1="256.60" y2="261.31" stroke="#666" stroke-width="0.4" stroke-opacity="0.6"/>
<text x="73.23" y="255.70" font-size="4.6" font-weight="bold" text-anchor="middle" fill="#111" font-family="Liberation Serif, serif">b</text>
<line x1="79.74" x2="79.74" y1="265.60" y2="268.78" stroke="#666" stroke-width="0.4" stroke-opacity="0.6"/>
<text x="79.74" y="264.70" font-size="4.6" font-weight="bold" text-anchor="middle" fill="#111" font-family="Liberation Serif, serif">cd</text>
<text x="69.98" y="284.60" font-size="4.5" text-anchor="middle" fill="#3a3a3a" font-family="Liberation Serif, serif">3</text>
<rect x="84.63" y="226.28" width="3.29" height="50.32" fill="#17C6C6"/>
<rect x="87.88" y="250.17" width="3.29" height="26.43" fill="#A55CF4"/>
<rect x="91.14" y="236.96" width="3.29" height="39.64" fill="#FF1F9E"/>
<rect x="94.40" y="252.89" width="3.29" height="23.71" fill="#FF9A00"/>
<rect x="97.65" y="253.25" width="3.29" height="23.35" fill="#14E387"/>
<rect x="100.91" y="267.19" width="3.29" height="9.41" fill="url(#pr)"/>
<rect x="104.17" y="253.79" width="3.29" height="22.81" fill="url(#pb)"/>
<line x1="86.26" x2="86.26" y1="221.50" y2="231.06" stroke="#666" stroke-width="0.4" stroke-opacity="0.6"/>
<text x="86.26" y="220.60" font-size="4.6" font-weight="bold" text-anchor="middle" fill="#111" font-family="Liberation Serif, serif">a</text>
<line x1="89.51" x2="89.51" y1="248.30" y2="252.05" stroke="#666" stroke-width="0.4" stroke-opacity="0.6"/>
<text x="89.51" y="247.40" font-size="4.6" font-weight="bold" text-anchor="middle" fill="#111" font-family="Liberation Serif, serif">cd</text>
<line x1="92.77" x2="92.77" y1="233.90" y2="240.02" stroke="#666" stroke-width="0.4" stroke-opacity="0.6"/>
<text x="92.77" y="233.00" font-size="4.6" font-weight="bold" text-anchor="middle" fill="#111" font-family="Liberation Serif, serif">b</text>
<line x1="96.02" x2="96.02" y1="251.20" y2="254.58" stroke="#666" stroke-width="0.4" stroke-opacity="0.6"/>
<text x="96.02" y="250.30" font-size="4.6" font-weight="bold" text-anchor="middle" fill="#111" font-family="Liberation Serif, serif">de</text>
<line x1="99.28" x2="99.28" y1="251.50" y2="255.00" stroke="#666" stroke-width="0.4" stroke-opacity="0.6"/>
<text x="99.28" y="250.60" font-size="4.6" font-weight="bold" text-anchor="middle" fill="#111" font-family="Liberation Serif, serif">c</text>
<line x1="102.54" x2="102.54" y1="266.39" y2="267.99" stroke="#666" stroke-width="0.4" stroke-opacity="0.6"/>
<text x="102.54" y="265.70" font-size="4.6" font-weight="bold" text-anchor="middle" fill="#111" font-family="Liberation Serif, serif">e</text>
<line x1="105.79" x2="105.79" y1="252.10" y2="255.49" stroke="#666" stroke-width="0.4" stroke-opacity="0.6"/>
<text x="105.79" y="251.20" font-size="4.6" font-weight="bold" text-anchor="middle" fill="#111" font-family="Liberation Serif, serif">cd</text>
<text x="96.03" y="284.60" font-size="4.5" text-anchor="middle" fill="#3a3a3a" font-family="Liberation Serif, serif">5</text>
<rect x="110.68" y="206.46" width="3.29" height="70.14" fill="#17C6C6"/>
<rect x="113.93" y="243.75" width="3.29" height="32.85" fill="#A55CF4"/>
<rect x="117.19" y="228.09" width="3.29" height="48.51" fill="#FF1F9E"/>
<rect x="120.45" y="247.91" width="3.29" height="28.69" fill="#FF9A00"/>
<rect x="123.70" y="244.29" width="3.29" height="32.31" fill="#14E387"/>
<rect x="126.96" y="255.24" width="3.29" height="21.36" fill="url(#pr)"/>
<rect x="130.22" y="248.00" width="3.29" height="28.60" fill="url(#pb)"/>
<line x1="112.31" x2="112.31" y1="201.70" y2="211.22" stroke="#666" stroke-width="0.4" stroke-opacity="0.6"/>
<text x="112.31" y="200.80" font-size="4.6" font-weight="bold" text-anchor="middle" fill="#111" font-family="Liberation Serif, serif">a</text>
<line x1="115.56" x2="115.56" y1="240.20" y2="247.30" stroke="#666" stroke-width="0.4" stroke-opacity="0.6"/>
<text x="115.56" y="239.30" font-size="4.6" font-weight="bold" text-anchor="middle" fill="#111" font-family="Liberation Serif, serif">bc</text>
<line x1="118.82" x2="118.82" y1="222.10" y2="234.08" stroke="#666" stroke-width="0.4" stroke-opacity="0.6"/>
<text x="118.82" y="221.20" font-size="4.6" font-weight="bold" text-anchor="middle" fill="#111" font-family="Liberation Serif, serif">b</text>
<line x1="122.08" x2="122.08" y1="245.40" y2="250.42" stroke="#666" stroke-width="0.4" stroke-opacity="0.6"/>
<text x="122.08" y="244.50" font-size="4.6" font-weight="bold" text-anchor="middle" fill="#111" font-family="Liberation Serif, serif">de</text>
<line x1="125.33" x2="125.33" y1="240.40" y2="248.18" stroke="#666" stroke-width="0.4" stroke-opacity="0.6"/>
<text x="125.33" y="239.50" font-size="4.6" font-weight="bold" text-anchor="middle" fill="#111" font-family="Liberation Serif, serif">bc</text>
<line x1="128.59" x2="128.59" y1="253.00" y2="257.48" stroke="#666" stroke-width="0.4" stroke-opacity="0.6"/>
<text x="128.59" y="252.10" font-size="4.6" font-weight="bold" text-anchor="middle" fill="#111" font-family="Liberation Serif, serif">e</text>
<line x1="131.84" x2="131.84" y1="244.20" y2="251.80" stroke="#666" stroke-width="0.4" stroke-opacity="0.6"/>
<text x="131.84" y="243.30" font-size="4.6" font-weight="bold" text-anchor="middle" fill="#111" font-family="Liberation Serif, serif">cd</text>
<text x="122.08" y="284.60" font-size="4.5" text-anchor="middle" fill="#3a3a3a" font-family="Liberation Serif, serif">7</text>
<rect x="136.73" y="191.89" width="3.29" height="84.71" fill="#17C6C6"/>
<rect x="139.98" y="237.87" width="3.29" height="38.73" fill="#A55CF4"/>
<rect x="143.24" y="219.04" width="3.29" height="57.56" fill="#FF1F9E"/>
<rect x="146.50" y="245.11" width="3.29" height="31.49" fill="#FF9A00"/>
<rect x="149.75" y="236.78" width="3.29" height="39.82" fill="#14E387"/>
<rect x="153.01" y="254.16" width="3.29" height="22.44" fill="url(#pr)"/>
<rect x="156.27" y="242.12" width="3.29" height="34.48" fill="url(#pb)"/>
<line x1="138.36" x2="138.36" y1="187.40" y2="196.38" stroke="#666" stroke-width="0.4" stroke-opacity="0.6"/>
<text x="138.36" y="186.50" font-size="4.6" font-weight="bold" text-anchor="middle" fill="#111" font-family="Liberation Serif, serif">a</text>
<line x1="141.61" x2="141.61" y1="234.30" y2="241.43" stroke="#666" stroke-width="0.4" stroke-opacity="0.6"/>
<text x="141.61" y="233.40" font-size="4.6" font-weight="bold" text-anchor="middle" fill="#111" font-family="Liberation Serif, serif">bc</text>
<line x1="144.87" x2="144.87" y1="214.60" y2="223.48" stroke="#666" stroke-width="0.4" stroke-opacity="0.6"/>
<text x="144.87" y="213.70" font-size="4.6" font-weight="bold" text-anchor="middle" fill="#111" font-family="Liberation Serif, serif">b</text>
<line x1="148.13" x2="148.13" y1="240.60" y2="249.61" stroke="#666" stroke-width="0.4" stroke-opacity="0.6"/>
<text x="148.13" y="239.70" font-size="4.6" font-weight="bold" text-anchor="middle" fill="#111" font-family="Liberation Serif, serif">de</text>
<line x1="151.38" x2="151.38" y1="231.90" y2="241.66" stroke="#666" stroke-width="0.4" stroke-opacity="0.6"/>
<text x="151.38" y="231.00" font-size="4.6" font-weight="bold" text-anchor="middle" fill="#111" font-family="Liberation Serif, serif">b</text>
<line x1="154.64" x2="154.64" y1="250.90" y2="257.41" stroke="#666" stroke-width="0.4" stroke-opacity="0.6"/>
<text x="154.64" y="250.00" font-size="4.6" font-weight="bold" text-anchor="middle" fill="#111" font-family="Liberation Serif, serif">e</text>
<line x1="157.89" x2="157.89" y1="239.70" y2="244.54" stroke="#666" stroke-width="0.4" stroke-opacity="0.6"/>
<text x="157.89" y="238.80" font-size="4.6" font-weight="bold" text-anchor="middle" fill="#111" font-family="Liberation Serif, serif">cd</text>
<text x="148.12" y="284.60" font-size="4.5" text-anchor="middle" fill="#3a3a3a" font-family="Liberation Serif, serif">9</text>
<rect x="162.78" y="185.10" width="3.29" height="91.50" fill="#17C6C6"/>
<rect x="166.03" y="217.23" width="3.29" height="59.37" fill="#A55CF4"/>
<rect x="169.29" y="198.59" width="3.29" height="78.01" fill="#FF1F9E"/>
<rect x="172.55" y="217.59" width="3.29" height="59.01" fill="#FF9A00"/>
<rect x="175.80" y="211.08" width="3.29" height="65.52" fill="#14E387"/>
<rect x="179.06" y="241.85" width="3.29" height="34.75" fill="url(#pr)"/>
<rect x="182.32" y="225.92" width="3.29" height="50.68" fill="url(#pb)"/>
<line x1="164.41" x2="164.41" y1="180.60" y2="189.61" stroke="#666" stroke-width="0.4" stroke-opacity="0.6"/>
<text x="164.41" y="179.70" font-size="4.6" font-weight="bold" text-anchor="middle" fill="#111" font-family="Liberation Serif, serif">a</text>
<line x1="167.66" x2="167.66" y1="212.20" y2="222.26" stroke="#666" stroke-width="0.4" stroke-opacity="0.6"/>
<text x="167.66" y="211.30" font-size="4.6" font-weight="bold" text-anchor="middle" fill="#111" font-family="Liberation Serif, serif">bc</text>
<line x1="170.92" x2="170.92" y1="194.60" y2="202.58" stroke="#666" stroke-width="0.4" stroke-opacity="0.6"/>
<text x="170.92" y="193.70" font-size="4.6" font-weight="bold" text-anchor="middle" fill="#111" font-family="Liberation Serif, serif">b</text>
<line x1="174.18" x2="174.18" y1="211.20" y2="223.99" stroke="#666" stroke-width="0.4" stroke-opacity="0.6"/>
<text x="174.18" y="210.30" font-size="4.6" font-weight="bold" text-anchor="middle" fill="#111" font-family="Liberation Serif, serif">de</text>
<line x1="177.43" x2="177.43" y1="204.90" y2="217.26" stroke="#666" stroke-width="0.4" stroke-opacity="0.6"/>
<text x="177.43" y="204.00" font-size="4.6" font-weight="bold" text-anchor="middle" fill="#111" font-family="Liberation Serif, serif">bc</text>
<line x1="180.69" x2="180.69" y1="238.30" y2="245.40" stroke="#666" stroke-width="0.4" stroke-opacity="0.6"/>
<text x="180.69" y="237.40" font-size="4.6" font-weight="bold" text-anchor="middle" fill="#111" font-family="Liberation Serif, serif">e</text>
<line x1="183.94" x2="183.94" y1="221.50" y2="230.34" stroke="#666" stroke-width="0.4" stroke-opacity="0.6"/>
<text x="183.94" y="220.60" font-size="4.6" font-weight="bold" text-anchor="middle" fill="#111" font-family="Liberation Serif, serif">cd</text>
<text x="174.18" y="284.60" font-size="4.5" text-anchor="middle" fill="#3a3a3a" font-family="Liberation Serif, serif">11</text>
<rect x="188.83" y="183.93" width="3.29" height="92.67" fill="#17C6C6"/>
<rect x="192.08" y="215.42" width="3.29" height="61.18" fill="#A55CF4"/>
<rect x="195.34" y="196.96" width="3.29" height="79.64" fill="#FF1F9E"/>
<rect x="198.60" y="217.23" width="3.29" height="59.37" fill="#FF9A00"/>
<rect x="201.85" y="210.72" width="3.29" height="65.88" fill="#14E387"/>
<rect x="205.11" y="238.23" width="3.29" height="38.37" fill="url(#pr)"/>
<rect x="208.37" y="222.30" width="3.29" height="54.30" fill="url(#pb)"/>
<line x1="190.46" x2="190.46" y1="180.60" y2="187.26" stroke="#666" stroke-width="0.4" stroke-opacity="0.6"/>
<text x="190.46" y="179.70" font-size="4.6" font-weight="bold" text-anchor="middle" fill="#111" font-family="Liberation Serif, serif">a</text>
<line x1="193.71" x2="193.71" y1="210.40" y2="220.44" stroke="#666" stroke-width="0.4" stroke-opacity="0.6"/>
<text x="193.71" y="209.50" font-size="4.6" font-weight="bold" text-anchor="middle" fill="#111" font-family="Liberation Serif, serif">bc</text>
<line x1="196.97" x2="196.97" y1="191.90" y2="202.02" stroke="#666" stroke-width="0.4" stroke-opacity="0.6"/>
<text x="196.97" y="191.00" font-size="4.6" font-weight="bold" text-anchor="middle" fill="#111" font-family="Liberation Serif, serif">b</text>
<line x1="200.23" x2="200.23" y1="210.50" y2="223.96" stroke="#666" stroke-width="0.4" stroke-opacity="0.6"/>
<text x="200.23" y="209.60" font-size="4.6" font-weight="bold" text-anchor="middle" fill="#111" font-family="Liberation Serif, serif">de</text>
<line x1="203.48" x2="203.48" y1="204.90" y2="216.53" stroke="#666" stroke-width="0.4" stroke-opacity="0.6"/>
<text x="203.48" y="204.00" font-size="4.6" font-weight="bold" text-anchor="middle" fill="#111" font-family="Liberation Serif, serif">b</text>
<line x1="206.74" x2="206.74" y1="236.40" y2="240.06" stroke="#666" stroke-width="0.4" stroke-opacity="0.6"/>
<text x="206.74" y="235.50" font-size="4.6" font-weight="bold" text-anchor="middle" fill="#111" font-family="Liberation Serif, serif">e</text>
<line x1="209.99" x2="209.99" y1="217.90" y2="226.70" stroke="#666" stroke-width="0.4" stroke-opacity="0.6"/>
<text x="209.99" y="217.00" font-size="4.6" font-weight="bold" text-anchor="middle" fill="#111" font-family="Liberation Serif, serif">cd</text>
<text x="200.23" y="284.60" font-size="4.5" text-anchor="middle" fill="#3a3a3a" font-family="Liberation Serif, serif">13</text>
<rect x="214.88" y="182.66" width="3.29" height="93.94" fill="#17C6C6"/>
<rect x="218.13" y="212.35" width="3.29" height="64.25" fill="#A55CF4"/>
<rect x="221.39" y="196.06" width="3.29" height="80.55" fill="#FF1F9E"/>
<rect x="224.65" y="211.35" width="3.29" height="65.25" fill="#FF9A00"/>
<rect x="227.90" y="205.47" width="3.29" height="71.13" fill="#14E387"/>
<rect x="231.16" y="236.78" width="3.29" height="39.82" fill="url(#pr)"/>
<rect x="234.42" y="221.40" width="3.29" height="55.21" fill="url(#pb)"/>
<line x1="216.51" x2="216.51" y1="179.50" y2="185.82" stroke="#666" stroke-width="0.4" stroke-opacity="0.6"/>
<text x="216.51" y="178.60" font-size="4.6" font-weight="bold" text-anchor="middle" fill="#111" font-family="Liberation Serif, serif">a</text>
<line x1="219.76" x2="219.76" y1="208.70" y2="215.99" stroke="#666" stroke-width="0.4" stroke-opacity="0.6"/>
<text x="219.76" y="207.80" font-size="4.6" font-weight="bold" text-anchor="middle" fill="#111" font-family="Liberation Serif, serif">bc</text>
<line x1="223.02" x2="223.02" y1="191.90" y2="200.21" stroke="#666" stroke-width="0.4" stroke-opacity="0.6"/>
<text x="223.02" y="191.00" font-size="4.6" font-weight="bold" text-anchor="middle" fill="#111" font-family="Liberation Serif, serif">b</text>
<line x1="226.28" x2="226.28" y1="208.10" y2="214.60" stroke="#666" stroke-width="0.4" stroke-opacity="0.6"/>
<text x="226.28" y="207.20" font-size="4.6" font-weight="bold" text-anchor="middle" fill="#111" font-family="Liberation Serif, serif">de</text>
<line x1="229.53" x2="229.53" y1="201.50" y2="209.43" stroke="#666" stroke-width="0.4" stroke-opacity="0.6"/>
<text x="229.53" y="200.60" font-size="4.6" font-weight="bold" text-anchor="middle" fill="#111" font-family="Liberation Serif, serif">b</text>
<line x1="232.79" x2="232.79" y1="235.50" y2="238.06" stroke="#666" stroke-width="0.4" stroke-opacity="0.6"/>
<text x="232.79" y="234.60" font-size="4.6" font-weight="bold" text-anchor="middle" fill="#111" font-family="Liberation Serif, serif">e</text>
<line x1="236.04" x2="236.04" y1="218.30" y2="224.49" stroke="#666" stroke-width="0.4" stroke-opacity="0.6"/>
<text x="236.04" y="217.40" font-size="4.6" font-weight="bold" text-anchor="middle" fill="#111" font-family="Liberation Serif, serif">cd</text>
<text x="226.28" y="284.60" font-size="4.5" text-anchor="middle" fill="#3a3a3a" font-family="Liberation Serif, serif">15</text>
<rect x="240.93" y="186.10" width="3.29" height="90.50" fill="#17C6C6"/>
<rect x="244.18" y="215.42" width="3.29" height="61.18" fill="#A55CF4"/>
<rect x="247.44" y="198.77" width="3.29" height="77.83" fill="#FF1F9E"/>
<rect x="250.70" y="215.42" width="3.29" height="61.18" fill="#FF9A00"/>
<rect x="253.95" y="209.09" width="3.29" height="67.51" fill="#14E387"/>
<rect x="257.21" y="246.37" width="3.29" height="30.23" fill="url(#pr)"/>
<rect x="260.47" y="222.30" width="3.29" height="54.30" fill="url(#pb)"/>
<line x1="242.56" x2="242.56" y1="181.50" y2="190.70" stroke="#666" stroke-width="0.4" stroke-opacity="0.6"/>
<text x="242.56" y="180.60" font-size="4.6" font-weight="bold" text-anchor="middle" fill="#111" font-family="Liberation Serif, serif">a</text>
<line x1="245.81" x2="245.81" y1="210.30" y2="220.54" stroke="#666" stroke-width="0.4" stroke-opacity="0.6"/>
<text x="245.81" y="209.40" font-size="4.6" font-weight="bold" text-anchor="middle" fill="#111" font-family="Liberation Serif, serif">bc</text>
<line x1="249.07" x2="249.07" y1="195.20" y2="202.34" stroke="#666" stroke-width="0.4" stroke-opacity="0.6"/>
<text x="249.07" y="194.30" font-size="4.6" font-weight="bold" text-anchor="middle" fill="#111" font-family="Liberation Serif, serif">b</text>
<line x1="252.33" x2="252.33" y1="210.10" y2="220.74" stroke="#666" stroke-width="0.4" stroke-opacity="0.6"/>
<text x="252.33" y="209.20" font-size="4.6" font-weight="bold" text-anchor="middle" fill="#111" font-family="Liberation Serif, serif">d</text>
<line x1="255.58" x2="255.58" y1="204.30" y2="213.87" stroke="#666" stroke-width="0.4" stroke-opacity="0.6"/>
<text x="255.58" y="203.40" font-size="4.6" font-weight="bold" text-anchor="middle" fill="#111" font-family="Liberation Serif, serif">b</text>
<line x1="258.84" x2="258.84" y1="245.00" y2="247.75" stroke="#666" stroke-width="0.4" stroke-opacity="0.6"/>
<text x="258.84" y="244.10" font-size="4.6" font-weight="bold" text-anchor="middle" fill="#111" font-family="Liberation Serif, serif">e</text>
<line x1="262.09" x2="262.09" y1="217.40" y2="227.20" stroke="#666" stroke-width="0.4" stroke-opacity="0.6"/>
<text x="262.09" y="216.50" font-size="4.6" font-weight="bold" text-anchor="middle" fill="#111" font-family="Liberation Serif, serif">cd</text>
<text x="252.33" y="284.60" font-size="4.5" text-anchor="middle" fill="#3a3a3a" font-family="Liberation Serif, serif">17</text>
<text x="149.05" y="292.80" font-size="7.2" font-weight="bold" text-anchor="middle" fill="#111" textLength="71" lengthAdjust="spacingAndGlyphs" font-family="Liberation Serif, serif">Weeks after cultivation</text>
<text transform="translate(9.40,218.30) rotate(-90)" font-size="7.2" font-weight="bold" text-anchor="middle" fill="#111" textLength="52.8" lengthAdjust="spacingAndGlyphs" font-family="Liberation Serif, serif">Hight of stem <tspan font-size="5.4">(cm)</tspan></text>
<text x="258.90" y="292.90" font-size="7.6" fill="#444" font-family="Liberation Serif, serif">(</text>
<text x="261.40" y="293.10" font-size="7.0" fill="#000" stroke="#000" stroke-width="0.18" font-weight="bold" font-family="Liberation Serif, serif">C</text>
<text x="268.20" y="292.90" font-size="7.6" fill="#444" text-anchor="end" font-family="Liberation Serif, serif">)</text>
<rect x="53.60" y="156.60" width="3.8" height="3.8" fill="#17C6C6"/>
<text x="58.50" y="160.25" font-size="6.0" font-weight="bold" fill="#000" stroke="#000" stroke-width="0.12" textLength="15.10" lengthAdjust="spacingAndGlyphs" font-family="Liberation Serif, serif">MMC</text>
<rect x="77.30" y="156.60" width="3.8" height="3.8" fill="#A55CF4"/>
<text x="82.20" y="160.25" font-size="6.0" font-weight="bold" fill="#000" stroke="#000" stroke-width="0.12" textLength="16.50" lengthAdjust="spacingAndGlyphs" font-family="Liberation Serif, serif">DM1C</text>
<rect x="102.70" y="156.60" width="3.8" height="3.8" fill="#FF1F9E"/>
<text x="107.30" y="160.25" font-size="6.0" font-weight="bold" fill="#000" stroke="#000" stroke-width="0.12" textLength="16.30" lengthAdjust="spacingAndGlyphs" font-family="Liberation Serif, serif">DM2C</text>
<rect x="127.30" y="156.60" width="3.8" height="3.8" fill="#FF9A00"/>
<text x="132.40" y="160.25" font-size="6.0" font-weight="bold" fill="#000" stroke="#000" stroke-width="0.12" textLength="13.10" lengthAdjust="spacingAndGlyphs" font-family="Liberation Serif, serif">SM1C</text>
<rect x="151.60" y="156.60" width="3.8" height="3.8" fill="#14E387"/>
<text x="156.70" y="160.25" font-size="6.0" font-weight="bold" fill="#000" stroke="#000" stroke-width="0.12" textLength="15.40" lengthAdjust="spacingAndGlyphs" font-family="Liberation Serif, serif">SM2C</text>
<rect x="175.80" y="156.60" width="3.8" height="3.8" fill="url(#pr)"/>
<text x="180.80" y="160.25" font-size="6.0" font-weight="bold" fill="#000" stroke="#000" stroke-width="0.12" textLength="14.00" lengthAdjust="spacingAndGlyphs" font-family="Liberation Serif, serif">MPW</text>
<rect x="198.50" y="156.60" width="3.8" height="3.8" fill="url(#pb)"/>
<text x="203.60" y="160.25" font-size="6.0" font-weight="bold" fill="#000" stroke="#000" stroke-width="0.12" textLength="14.00" lengthAdjust="spacingAndGlyphs" font-family="Liberation Serif, serif">MLW</text>
</g>
<g id="chart-d">
<line x1="310.20" x2="543.03" y1="273.40" y2="273.40" stroke="#E9E9E9" stroke-width="0.5"/>
<text x="306.40" y="274.90" font-size="4.5" text-anchor="end" fill="#3a3a3a" font-family="Liberation Serif, serif">0.00</text>
<line x1="310.20" x2="543.03" y1="255.70" y2="255.70" stroke="#E9E9E9" stroke-width="0.5"/>
<text x="306.40" y="257.20" font-size="4.5" text-anchor="end" fill="#3a3a3a" font-family="Liberation Serif, serif">0.50</text>
<line x1="310.20" x2="543.03" y1="238.00" y2="238.00" stroke="#E9E9E9" stroke-width="0.5"/>
<text x="306.40" y="239.50" font-size="4.5" text-anchor="end" fill="#3a3a3a" font-family="Liberation Serif, serif">1.00</text>
<line x1="310.20" x2="543.03" y1="220.30" y2="220.30" stroke="#E9E9E9" stroke-width="0.5"/>
<text x="306.40" y="221.80" font-size="4.5" text-anchor="end" fill="#3a3a3a" font-family="Liberation Serif, serif">1.50</text>
<line x1="310.20" x2="543.03" y1="202.60" y2="202.60" stroke="#E9E9E9" stroke-width="0.5"/>
<text x="306.40" y="204.10" font-size="4.5" text-anchor="end" fill="#3a3a3a" font-family="Liberation Serif, serif">2.00</text>
<line x1="310.20" x2="543.03" y1="184.90" y2="184.90" stroke="#E9E9E9" stroke-width="0.5"/>
<text x="306.40" y="186.40" font-size="4.5" text-anchor="end" fill="#3a3a3a" font-family="Liberation Serif, serif">2.50</text>
<line x1="310.20" x2="543.03" y1="167.20" y2="167.20" stroke="#E9E9E9" stroke-width="0.5"/>
<text x="306.40" y="168.70" font-size="4.5" text-anchor="end" fill="#3a3a3a" font-family="Liberation Serif, serif">3.00</text>
<rect x="311.82" y="247.03" width="3.27" height="26.37" fill="#17C6C6"/>
<line x1="313.43" x2="313.43" y1="245.70" y2="248.35" stroke="#666" stroke-width="0.4" stroke-opacity="0.6"/>
<text x="313.43" y="244.80" font-size="4.6" font-weight="bold" text-anchor="middle" fill="#111" font-family="Liberation Serif, serif">a</text>
<text x="323.13" y="281.60" font-size="4.5" text-anchor="middle" fill="#3a3a3a" font-family="Liberation Serif, serif">1</text>
<rect x="337.69" y="233.40" width="3.27" height="40.00" fill="#17C6C6"/>
<rect x="340.92" y="247.91" width="3.27" height="25.49" fill="#A55CF4"/>
<rect x="344.15" y="253.82" width="3.27" height="19.58" fill="#FF1F9E"/>
<rect x="347.39" y="244.30" width="3.27" height="29.10" fill="#FF9A00"/>
<rect x="350.62" y="251.27" width="3.27" height="22.12" fill="#14E387"/>
<rect x="357.09" y="262.43" width="3.27" height="10.97" fill="url(#pb)"/>
<line x1="339.30" x2="339.30" y1="231.90" y2="234.90" stroke="#666" stroke-width="0.4" stroke-opacity="0.6"/>
<text x="339.30" y="231.00" font-size="4.6" font-weight="bold" text-anchor="middle" fill="#111" font-family="Liberation Serif, serif">a</text>
<line x1="342.54" x2="342.54" y1="246.40" y2="249.42" stroke="#666" stroke-width="0.4" stroke-opacity="0.6"/>
<text x="342.54" y="245.50" font-size="4.6" font-weight="bold" text-anchor="middle" fill="#111" font-family="Liberation Serif, serif">bc</text>
<line x1="345.77" x2="345.77" y1="251.90" y2="255.75" stroke="#666" stroke-width="0.4" stroke-opacity="0.6"/>
<text x="345.77" y="251.00" font-size="4.6" font-weight="bold" text-anchor="middle" fill="#111" font-family="Liberation Serif, serif">b</text>
<line x1="349.00" x2="349.00" y1="233.40" y2="255.20" stroke="#666" stroke-width="0.4" stroke-opacity="0.6"/>
<text x="349.00" y="232.50" font-size="4.6" font-weight="bold" text-anchor="middle" fill="#111" font-family="Liberation Serif, serif">bc</text>
<line x1="352.24" x2="352.24" y1="249.30" y2="253.25" stroke="#666" stroke-width="0.4" stroke-opacity="0.6"/>
<text x="352.24" y="248.40" font-size="4.6" font-weight="bold" text-anchor="middle" fill="#111" font-family="Liberation Serif, serif">b</text>
<line x1="358.71" x2="358.71" y1="261.40" y2="263.45" stroke="#666" stroke-width="0.4" stroke-opacity="0.6"/>
<text x="358.71" y="260.50" font-size="4.6" font-weight="bold" text-anchor="middle" fill="#111" font-family="Liberation Serif, serif">c</text>
<text x="349.00" y="281.60" font-size="4.5" text-anchor="middle" fill="#3a3a3a" font-family="Liberation Serif, serif">3</text>
<rect x="363.56" y="224.19" width="3.27" height="49.21" fill="#17C6C6"/>
<rect x="366.79" y="244.90" width="3.27" height="28.50" fill="#A55CF4"/>
<rect x="370.02" y="242.25" width="3.27" height="31.15" fill="#FF1F9E"/>
<rect x="373.26" y="251.45" width="3.27" height="21.95" fill="#FF9A00"/>
<rect x="376.49" y="246.50" width="3.27" height="26.90" fill="#14E387"/>
<rect x="379.73" y="261.47" width="3.27" height="11.93" fill="url(#pr)"/>
<rect x="382.96" y="254.18" width="3.27" height="19.22" fill="url(#pb)"/>
<line x1="365.17" x2="365.17" y1="222.90" y2="225.49" stroke="#666" stroke-width="0.4" stroke-opacity="0.6"/>
<text x="365.17" y="222.00" font-size="4.6" font-weight="bold" text-anchor="middle" fill="#111" font-family="Liberation Serif, serif">a</text>
<line x1="368.41" x2="368.41" y1="241.90" y2="247.91" stroke="#666" stroke-width="0.4" stroke-opacity="0.6"/>
<text x="368.41" y="241.00" font-size="4.6" font-weight="bold" text-anchor="middle" fill="#111" font-family="Liberation Serif, serif">bc</text>
<line x1="371.64" x2="371.64" y1="239.30" y2="245.20" stroke="#666" stroke-width="0.4" stroke-opacity="0.6"/>
<text x="371.64" y="238.40" font-size="4.6" font-weight="bold" text-anchor="middle" fill="#111" font-family="Liberation Serif, serif">b</text>
<line x1="374.88" x2="374.88" y1="250.40" y2="252.50" stroke="#666" stroke-width="0.4" stroke-opacity="0.6"/>
<text x="374.88" y="249.50" font-size="4.6" font-weight="bold" text-anchor="middle" fill="#111" font-family="Liberation Serif, serif">de</text>
<line x1="378.11" x2="378.11" y1="245.30" y2="247.69" stroke="#666" stroke-width="0.4" stroke-opacity="0.6"/>
<text x="378.11" y="244.40" font-size="4.6" font-weight="bold" text-anchor="middle" fill="#111" font-family="Liberation Serif, serif">b</text>
<line x1="381.34" x2="381.34" y1="260.67" y2="262.27" stroke="#666" stroke-width="0.4" stroke-opacity="0.6"/>
<text x="381.34" y="260.60" font-size="4.6" font-weight="bold" text-anchor="middle" fill="#111" font-family="Liberation Serif, serif">e</text>
<line x1="384.58" x2="384.58" y1="253.38" y2="254.98" stroke="#666" stroke-width="0.4" stroke-opacity="0.6"/>
<text x="384.58" y="252.50" font-size="4.6" font-weight="bold" text-anchor="middle" fill="#111" font-family="Liberation Serif, serif">cd</text>
<text x="374.88" y="281.60" font-size="4.5" text-anchor="middle" fill="#3a3a3a" font-family="Liberation Serif, serif">5</text>
<rect x="389.43" y="222.78" width="3.27" height="50.62" fill="#17C6C6"/>
<rect x="392.66" y="240.12" width="3.27" height="33.28" fill="#A55CF4"/>
<rect x="395.89" y="239.06" width="3.27" height="34.34" fill="#FF1F9E"/>
<rect x="399.13" y="251.45" width="3.27" height="21.95" fill="#FF9A00"/>
<rect x="402.36" y="239.06" width="3.27" height="34.34" fill="#14E387"/>
<rect x="405.60" y="253.22" width="3.27" height="20.18" fill="url(#pr)"/>
<rect x="408.83" y="253.22" width="3.27" height="20.18" fill="url(#pb)"/>
<line x1="391.04" x2="391.04" y1="220.60" y2="224.96" stroke="#666" stroke-width="0.4" stroke-opacity="0.6"/>
<text x="391.04" y="219.70" font-size="4.6" font-weight="bold" text-anchor="middle" fill="#111" font-family="Liberation Serif, serif">a</text>
<line x1="394.28" x2="394.28" y1="238.30" y2="241.95" stroke="#666" stroke-width="0.4" stroke-opacity="0.6"/>
<text x="394.28" y="237.40" font-size="4.6" font-weight="bold" text-anchor="middle" fill="#111" font-family="Liberation Serif, serif">b</text>
<line x1="397.51" x2="397.51" y1="236.70" y2="241.42" stroke="#666" stroke-width="0.4" stroke-opacity="0.6"/>
<text x="397.51" y="235.80" font-size="4.6" font-weight="bold" text-anchor="middle" fill="#111" font-family="Liberation Serif, serif">b</text>
<line x1="400.75" x2="400.75" y1="250.10" y2="252.80" stroke="#666" stroke-width="0.4" stroke-opacity="0.6"/>
<text x="400.75" y="249.20" font-size="4.6" font-weight="bold" text-anchor="middle" fill="#111" font-family="Liberation Serif, serif">cd</text>
<line x1="403.98" x2="403.98" y1="236.70" y2="241.42" stroke="#666" stroke-width="0.4" stroke-opacity="0.6"/>
<text x="403.98" y="235.80" font-size="4.6" font-weight="bold" text-anchor="middle" fill="#111" font-family="Liberation Serif, serif">b</text>
<line x1="407.21" x2="407.21" y1="251.50" y2="254.94" stroke="#666" stroke-width="0.4" stroke-opacity="0.6"/>
<text x="407.21" y="250.60" font-size="4.6" font-weight="bold" text-anchor="middle" fill="#111" font-family="Liberation Serif, serif">d</text>
<line x1="410.45" x2="410.45" y1="252.10" y2="254.34" stroke="#666" stroke-width="0.4" stroke-opacity="0.6"/>
<text x="410.45" y="251.20" font-size="4.6" font-weight="bold" text-anchor="middle" fill="#111" font-family="Liberation Serif, serif">c</text>
<text x="400.75" y="281.60" font-size="4.5" text-anchor="middle" fill="#3a3a3a" font-family="Liberation Serif, serif">7</text>
<rect x="415.30" y="222.07" width="3.27" height="51.33" fill="#17C6C6"/>
<rect x="418.53" y="234.18" width="3.27" height="39.22" fill="#A55CF4"/>
<rect x="421.76" y="226.32" width="3.27" height="47.08" fill="#FF1F9E"/>
<rect x="425.00" y="249.68" width="3.27" height="23.72" fill="#FF9A00"/>
<rect x="428.23" y="233.75" width="3.27" height="39.65" fill="#14E387"/>
<rect x="431.47" y="252.37" width="3.27" height="21.03" fill="url(#pr)"/>
<rect x="434.70" y="250.53" width="3.27" height="22.87" fill="url(#pb)"/>
<line x1="416.91" x2="416.91" y1="218.40" y2="225.74" stroke="#666" stroke-width="0.4" stroke-opacity="0.6"/>
<text x="416.91" y="217.50" font-size="4.6" font-weight="bold" text-anchor="middle" fill="#111" font-family="Liberation Serif, serif">a</text>
<line x1="420.15" x2="420.15" y1="232.40" y2="235.95" stroke="#666" stroke-width="0.4" stroke-opacity="0.6"/>
<text x="420.15" y="231.50" font-size="4.6" font-weight="bold" text-anchor="middle" fill="#111" font-family="Liberation Serif, serif">ab</text>
<line x1="423.38" x2="423.38" y1="223.90" y2="228.74" stroke="#666" stroke-width="0.4" stroke-opacity="0.6"/>
<text x="423.38" y="223.00" font-size="4.6" font-weight="bold" text-anchor="middle" fill="#111" font-family="Liberation Serif, serif">a</text>
<line x1="426.62" x2="426.62" y1="248.50" y2="250.86" stroke="#666" stroke-width="0.4" stroke-opacity="0.6"/>
<text x="426.62" y="247.60" font-size="4.6" font-weight="bold" text-anchor="middle" fill="#111" font-family="Liberation Serif, serif">c</text>
<line x1="429.85" x2="429.85" y1="231.50" y2="236.00" stroke="#666" stroke-width="0.4" stroke-opacity="0.6"/>
<text x="429.85" y="230.60" font-size="4.6" font-weight="bold" text-anchor="middle" fill="#111" font-family="Liberation Serif, serif">a</text>
<line x1="433.08" x2="433.08" y1="249.70" y2="255.04" stroke="#666" stroke-width="0.4" stroke-opacity="0.6"/>
<text x="433.08" y="248.80" font-size="4.6" font-weight="bold" text-anchor="middle" fill="#111" font-family="Liberation Serif, serif">c</text>
<line x1="436.32" x2="436.32" y1="249.73" y2="251.33" stroke="#666" stroke-width="0.4" stroke-opacity="0.6"/>
<text x="436.32" y="249.00" font-size="4.6" font-weight="bold" text-anchor="middle" fill="#111" font-family="Liberation Serif, serif">bc</text>
<text x="426.62" y="281.60" font-size="4.5" text-anchor="middle" fill="#3a3a3a" font-family="Liberation Serif, serif">9</text>
<rect x="441.17" y="217.57" width="3.27" height="55.83" fill="#17C6C6"/>
<rect x="444.40" y="227.38" width="3.27" height="46.02" fill="#A55CF4"/>
<rect x="447.63" y="215.70" width="3.27" height="57.70" fill="#FF1F9E"/>
<rect x="450.87" y="240.12" width="3.27" height="33.28" fill="#FF9A00"/>
<rect x="454.10" y="222.42" width="3.27" height="50.98" fill="#14E387"/>
<rect x="457.34" y="258.71" width="3.27" height="14.69" fill="url(#pr)"/>
<rect x="460.57" y="235.17" width="3.27" height="38.23" fill="url(#pb)"/>
<line x1="442.78" x2="442.78" y1="216.70" y2="218.45" stroke="#666" stroke-width="0.4" stroke-opacity="0.6"/>
<text x="442.78" y="215.80" font-size="4.6" font-weight="bold" text-anchor="middle" fill="#111" font-family="Liberation Serif, serif">a</text>
<line x1="446.02" x2="446.02" y1="225.00" y2="229.76" stroke="#666" stroke-width="0.4" stroke-opacity="0.6"/>
<text x="446.02" y="224.10" font-size="4.6" font-weight="bold" text-anchor="middle" fill="#111" font-family="Liberation Serif, serif">b</text>
<line x1="449.25" x2="449.25" y1="213.20" y2="218.20" stroke="#666" stroke-width="0.4" stroke-opacity="0.6"/>
<text x="449.25" y="212.30" font-size="4.6" font-weight="bold" text-anchor="middle" fill="#111" font-family="Liberation Serif, serif">b</text>
<line x1="452.48" x2="452.48" y1="237.90" y2="242.35" stroke="#666" stroke-width="0.4" stroke-opacity="0.6"/>
<text x="452.48" y="237.00" font-size="4.6" font-weight="bold" text-anchor="middle" fill="#111" font-family="Liberation Serif, serif">cd</text>
<line x1="455.72" x2="455.72" y1="219.40" y2="225.45" stroke="#666" stroke-width="0.4" stroke-opacity="0.6"/>
<text x="455.72" y="218.50" font-size="4.6" font-weight="bold" text-anchor="middle" fill="#111" font-family="Liberation Serif, serif">b</text>
<line x1="458.95" x2="458.95" y1="257.40" y2="260.02" stroke="#666" stroke-width="0.4" stroke-opacity="0.6"/>
<text x="458.95" y="256.50" font-size="4.6" font-weight="bold" text-anchor="middle" fill="#111" font-family="Liberation Serif, serif">d</text>
<line x1="462.19" x2="462.19" y1="232.40" y2="237.94" stroke="#666" stroke-width="0.4" stroke-opacity="0.6"/>
<text x="462.19" y="231.50" font-size="4.6" font-weight="bold" text-anchor="middle" fill="#111" font-family="Liberation Serif, serif">c</text>
<text x="452.48" y="281.60" font-size="4.5" text-anchor="middle" fill="#3a3a3a" font-family="Liberation Serif, serif">11</text>
<rect x="467.04" y="213.75" width="3.27" height="59.65" fill="#17C6C6"/>
<rect x="470.27" y="217.64" width="3.27" height="55.75" fill="#A55CF4"/>
<rect x="473.50" y="213.40" width="3.27" height="60.00" fill="#FF1F9E"/>
<rect x="476.74" y="236.02" width="3.27" height="37.38" fill="#FF9A00"/>
<rect x="479.97" y="213.40" width="3.27" height="60.00" fill="#14E387"/>
<rect x="483.21" y="258.71" width="3.27" height="14.69" fill="url(#pr)"/>
<rect x="486.44" y="231.45" width="3.27" height="41.95" fill="url(#pb)"/>
<line x1="468.65" x2="468.65" y1="210.50" y2="217.00" stroke="#666" stroke-width="0.4" stroke-opacity="0.6"/>
<text x="468.65" y="209.60" font-size="4.6" font-weight="bold" text-anchor="middle" fill="#111" font-family="Liberation Serif, serif">a</text>
<line x1="471.89" x2="471.89" y1="214.80" y2="220.49" stroke="#666" stroke-width="0.4" stroke-opacity="0.6"/>
<text x="471.89" y="213.90" font-size="4.6" font-weight="bold" text-anchor="middle" fill="#111" font-family="Liberation Serif, serif">a</text>
<line x1="475.12" x2="475.12" y1="210.50" y2="216.29" stroke="#666" stroke-width="0.4" stroke-opacity="0.6"/>
<text x="475.12" y="209.60" font-size="4.6" font-weight="bold" text-anchor="middle" fill="#111" font-family="Liberation Serif, serif">ab</text>
<line x1="478.35" x2="478.35" y1="233.70" y2="238.34" stroke="#666" stroke-width="0.4" stroke-opacity="0.6"/>
<text x="478.35" y="232.80" font-size="4.6" font-weight="bold" text-anchor="middle" fill="#111" font-family="Liberation Serif, serif">cd</text>
<line x1="481.59" x2="481.59" y1="210.30" y2="216.49" stroke="#666" stroke-width="0.4" stroke-opacity="0.6"/>
<text x="481.59" y="209.40" font-size="4.6" font-weight="bold" text-anchor="middle" fill="#111" font-family="Liberation Serif, serif">a</text>
<line x1="484.82" x2="484.82" y1="257.00" y2="260.42" stroke="#666" stroke-width="0.4" stroke-opacity="0.6"/>
<text x="484.82" y="256.10" font-size="4.6" font-weight="bold" text-anchor="middle" fill="#111" font-family="Liberation Serif, serif">d</text>
<line x1="488.06" x2="488.06" y1="229.20" y2="233.70" stroke="#666" stroke-width="0.4" stroke-opacity="0.6"/>
<text x="488.06" y="228.30" font-size="4.6" font-weight="bold" text-anchor="middle" fill="#111" font-family="Liberation Serif, serif">bc</text>
<text x="478.35" y="281.60" font-size="4.5" text-anchor="middle" fill="#3a3a3a" font-family="Liberation Serif, serif">13</text>
<rect x="492.91" y="204.72" width="3.27" height="68.68" fill="#17C6C6"/>
<rect x="496.14" y="219.77" width="3.27" height="53.63" fill="#A55CF4"/>
<rect x="499.37" y="204.37" width="3.27" height="69.03" fill="#FF1F9E"/>
<rect x="502.61" y="224.83" width="3.27" height="48.57" fill="#FF9A00"/>
<rect x="505.84" y="212.51" width="3.27" height="60.89" fill="#14E387"/>
<rect x="509.08" y="250.04" width="3.27" height="23.36" fill="url(#pr)"/>
<rect x="512.31" y="230.57" width="3.27" height="42.83" fill="url(#pb)"/>
<line x1="494.52" x2="494.52" y1="201.90" y2="207.55" stroke="#666" stroke-width="0.4" stroke-opacity="0.6"/>
<text x="494.52" y="201.00" font-size="4.6" font-weight="bold" text-anchor="middle" fill="#111" font-family="Liberation Serif, serif">a</text>
<line x1="497.76" x2="497.76" y1="216.80" y2="222.74" stroke="#666" stroke-width="0.4" stroke-opacity="0.6"/>
<text x="497.76" y="215.90" font-size="4.6" font-weight="bold" text-anchor="middle" fill="#111" font-family="Liberation Serif, serif">ab</text>
<line x1="500.99" x2="500.99" y1="183.40" y2="225.34" stroke="#666" stroke-width="0.4" stroke-opacity="0.6"/>
<text x="500.99" y="182.50" font-size="4.6" font-weight="bold" text-anchor="middle" fill="#111" font-family="Liberation Serif, serif">bc</text>
<line x1="504.22" x2="504.22" y1="219.10" y2="230.56" stroke="#666" stroke-width="0.4" stroke-opacity="0.6"/>
<text x="504.22" y="218.20" font-size="4.6" font-weight="bold" text-anchor="middle" fill="#111" font-family="Liberation Serif, serif">de</text>
<line x1="507.46" x2="507.46" y1="209.40" y2="215.62" stroke="#666" stroke-width="0.4" stroke-opacity="0.6"/>
<text x="507.46" y="208.50" font-size="4.6" font-weight="bold" text-anchor="middle" fill="#111" font-family="Liberation Serif, serif">a</text>
<line x1="510.69" x2="510.69" y1="248.30" y2="251.77" stroke="#666" stroke-width="0.4" stroke-opacity="0.6"/>
<text x="510.69" y="247.40" font-size="4.6" font-weight="bold" text-anchor="middle" fill="#111" font-family="Liberation Serif, serif">e</text>
<line x1="513.93" x2="513.93" y1="228.10" y2="233.03" stroke="#666" stroke-width="0.4" stroke-opacity="0.6"/>
<text x="513.93" y="227.20" font-size="4.6" font-weight="bold" text-anchor="middle" fill="#111" font-family="Liberation Serif, serif">cd</text>
<text x="504.22" y="281.60" font-size="4.5" text-anchor="middle" fill="#3a3a3a" font-family="Liberation Serif, serif">15</text>
<rect x="518.78" y="219.59" width="3.27" height="53.81" fill="#17C6C6"/>
<rect x="522.01" y="219.95" width="3.27" height="53.45" fill="#A55CF4"/>
<rect x="525.24" y="221.36" width="3.27" height="52.04" fill="#FF1F9E"/>
<rect x="528.48" y="232.16" width="3.27" height="41.24" fill="#FF9A00"/>
<rect x="531.71" y="213.93" width="3.27" height="59.47" fill="#14E387"/>
<rect x="534.95" y="254.92" width="3.27" height="18.48" fill="url(#pr)"/>
<rect x="538.18" y="232.16" width="3.27" height="41.24" fill="url(#pb)"/>
<line x1="520.39" x2="520.39" y1="216.30" y2="222.88" stroke="#666" stroke-width="0.4" stroke-opacity="0.6"/>
<text x="520.39" y="215.40" font-size="4.6" font-weight="bold" text-anchor="middle" fill="#111" font-family="Liberation Serif, serif">ab</text>
<line x1="523.63" x2="523.63" y1="216.30" y2="223.59" stroke="#666" stroke-width="0.4" stroke-opacity="0.6"/>
<text x="523.63" y="215.40" font-size="4.6" font-weight="bold" text-anchor="middle" fill="#111" font-family="Liberation Serif, serif">ab</text>
<line x1="526.86" x2="526.86" y1="219.60" y2="223.12" stroke="#666" stroke-width="0.4" stroke-opacity="0.6"/>
<text x="526.86" y="218.70" font-size="4.6" font-weight="bold" text-anchor="middle" fill="#111" font-family="Liberation Serif, serif">bc</text>
<line x1="530.10" x2="530.10" y1="230.10" y2="234.22" stroke="#666" stroke-width="0.4" stroke-opacity="0.6"/>
<text x="530.10" y="229.20" font-size="4.6" font-weight="bold" text-anchor="middle" fill="#111" font-family="Liberation Serif, serif">de</text>
<line x1="533.33" x2="533.33" y1="210.30" y2="217.56" stroke="#666" stroke-width="0.4" stroke-opacity="0.6"/>
<text x="533.33" y="209.40" font-size="4.6" font-weight="bold" text-anchor="middle" fill="#111" font-family="Liberation Serif, serif">a</text>
<line x1="536.56" x2="536.56" y1="254.10" y2="255.74" stroke="#666" stroke-width="0.4" stroke-opacity="0.6"/>
<text x="536.56" y="253.20" font-size="4.6" font-weight="bold" text-anchor="middle" fill="#111" font-family="Liberation Serif, serif">e</text>
<line x1="539.80" x2="539.80" y1="229.50" y2="234.82" stroke="#666" stroke-width="0.4" stroke-opacity="0.6"/>
<text x="539.80" y="228.60" font-size="4.6" font-weight="bold" text-anchor="middle" fill="#111" font-family="Liberation Serif, serif">cd</text>
<text x="530.09" y="281.60" font-size="4.5" text-anchor="middle" fill="#3a3a3a" font-family="Liberation Serif, serif">17</text>
<text x="427.30" y="289.60" font-size="7.2" font-weight="bold" text-anchor="middle" fill="#111" textLength="71" lengthAdjust="spacingAndGlyphs" font-family="Liberation Serif, serif">Weeks after cultivation</text>
<text transform="translate(290.90,211.80) rotate(-90)" font-size="7.2" font-weight="bold" text-anchor="middle" fill="#111" textLength="51" lengthAdjust="spacingAndGlyphs" font-family="Liberation Serif, serif">Width of stem <tspan font-size="5.4">(cm)</tspan></text>
<text x="537.00" y="292.70" font-size="6.1" fill="#444" font-family="Liberation Serif, serif">(</text>
<text x="539.30" y="292.60" font-size="10" fill="#000" stroke="#000" stroke-width="0.18"  font-family="Liberation Serif, serif">d</text>
<text x="547.30" y="292.70" font-size="6.1" fill="#444" text-anchor="end" font-family="Liberation Serif, serif">)</text>
<rect x="333.70" y="156.10" width="3.8" height="3.8" fill="#17C6C6"/>
<text x="338.60" y="159.75" font-size="6.0" font-weight="bold" fill="#000" stroke="#000" stroke-width="0.12" textLength="14.60" lengthAdjust="spacingAndGlyphs" font-family="Liberation Serif, serif">MMC</text>
<rect x="356.30" y="156.10" width="3.8" height="3.8" fill="#A55CF4"/>
<text x="361.40" y="159.75" font-size="6.0" font-weight="bold" fill="#000" stroke="#000" stroke-width="0.12" textLength="16.70" lengthAdjust="spacingAndGlyphs" font-family="Liberation Serif, serif">DM1C</text>
<rect x="381.70" y="156.10" width="3.8" height="3.8" fill="#FF1F9E"/>
<text x="386.50" y="159.75" font-size="6.0" font-weight="bold" fill="#000" stroke="#000" stroke-width="0.12" textLength="16.70" lengthAdjust="spacingAndGlyphs" font-family="Liberation Serif, serif">DM2C</text>
<rect x="406.30" y="156.10" width="3.8" height="3.8" fill="#FF9A00"/>
<text x="411.40" y="159.75" font-size="6.0" font-weight="bold" fill="#000" stroke="#000" stroke-width="0.12" textLength="14.90" lengthAdjust="spacingAndGlyphs" font-family="Liberation Serif, serif">SM1C</text>
<rect x="429.50" y="156.10" width="3.8" height="3.8" fill="#14E387"/>
<text x="434.60" y="159.75" font-size="6.0" font-weight="bold" fill="#000" stroke="#000" stroke-width="0.12" textLength="14.90" lengthAdjust="spacingAndGlyphs" font-family="Liberation Serif, serif">SM2C</text>
<rect x="453.20" y="156.10" width="3.8" height="3.8" fill="url(#pr)"/>
<text x="458.30" y="159.75" font-size="6.0" font-weight="bold" fill="#000" stroke="#000" stroke-width="0.12" textLength="14.00" lengthAdjust="spacingAndGlyphs" font-family="Liberation Serif, serif">MPW</text>
<rect x="475.90" y="156.10" width="3.8" height="3.8" fill="url(#pb)"/>
<text x="480.80" y="159.75" font-size="6.0" font-weight="bold" fill="#000" stroke="#000" stroke-width="0.12" textLength="14.20" lengthAdjust="spacingAndGlyphs" font-family="Liberation Serif, serif">MLW</text>
</g>
</svg>
</body></html>
